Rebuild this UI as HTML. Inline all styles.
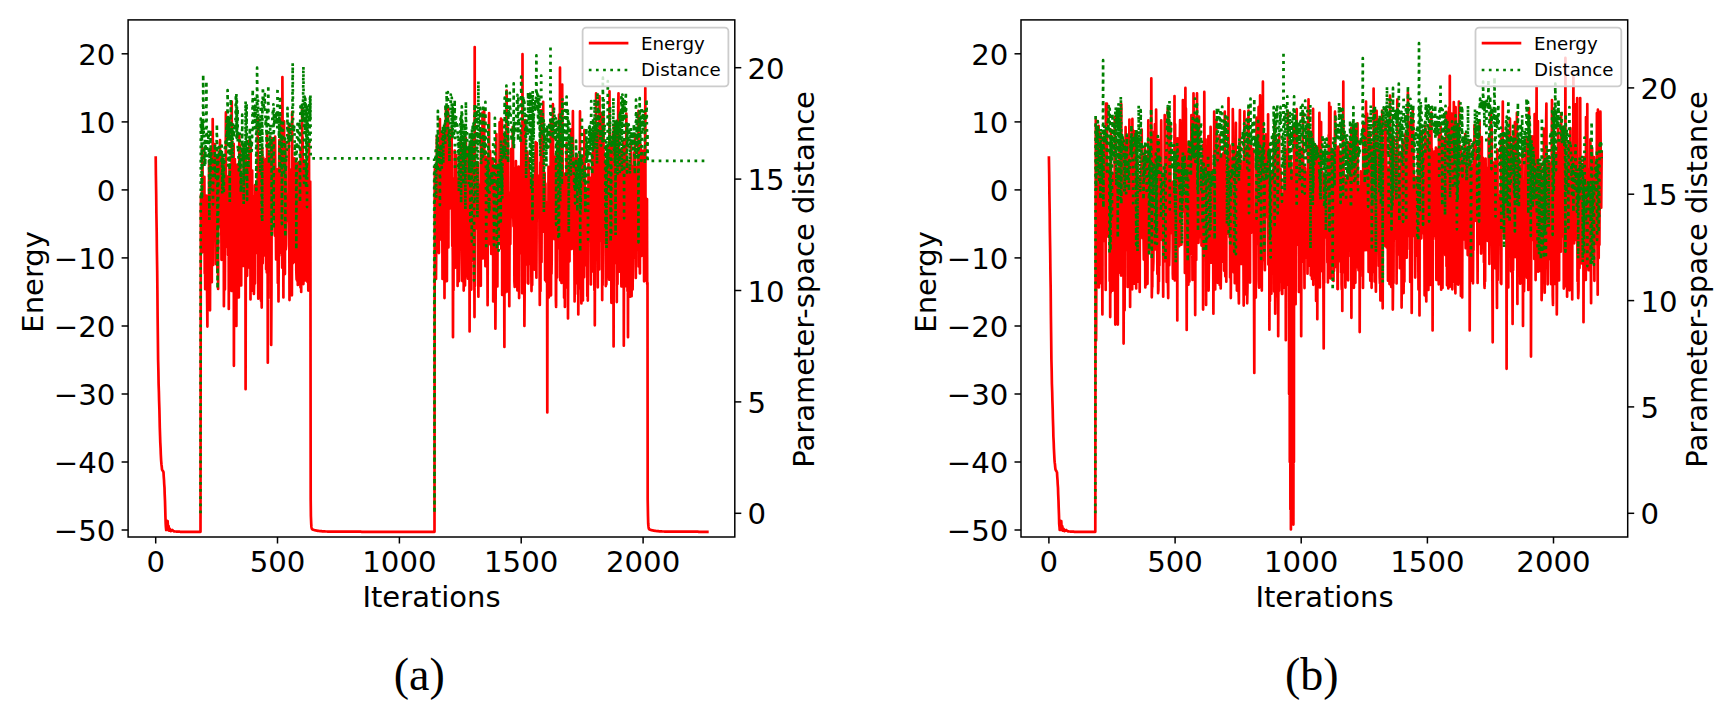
<!DOCTYPE html>
<html><head><meta charset="utf-8"><title>Energy and parameter-space distance</title>
<style>
html,body{margin:0;padding:0;background:#fff;}
body{width:1731px;height:701px;overflow:hidden;}
svg{display:block;}
.t{font-family:"DejaVu Sans","Liberation Sans",sans-serif;font-size:29.2px;fill:#000;}
.a{font-family:"DejaVu Sans","Liberation Sans",sans-serif;font-size:29px;fill:#000;}
.l{font-family:"DejaVu Sans","Liberation Sans",sans-serif;font-size:18.2px;fill:#000;}
.c{font-family:"Liberation Serif","DejaVu Serif",serif;font-size:46px;fill:#000;}
.en{fill:none;stroke:#ff0000;stroke-width:2.7;stroke-linejoin:round;stroke-linecap:butt;}
.di{fill:none;stroke:#008000;stroke-width:2.7;stroke-dasharray:2.7 4.46;stroke-linejoin:round;}
.sp{fill:none;stroke:#000;stroke-width:1.5;}
.tk{stroke:#000;stroke-width:1.5;}
.lg{fill:#fff;fill-opacity:0.8;stroke:#ccc;stroke-width:1.8;}
</style></head><body>
<svg width="1731" height="701" viewBox="0 0 1731 701">
<rect width="1731" height="701" fill="#fff"/>
<g id="plot-a">
<polyline class="en" points="155.7,156.2 155.9,175.3 156.2,194.4 156.4,213.5 156.7,232.6 156.9,251.7 157.2,270.8 157.4,289.9 157.6,315.2 157.9,340.5 158.1,359.3 158.4,371.5 158.6,383.8 158.9,392.3 159.1,400.8 159.4,409.8 159.6,418.8 159.8,427.8 160.1,436.8 160.3,442.6 160.6,448.4 160.8,454.2 161.1,460.0 161.3,462.4 161.5,464.7 161.8,467.1 162.0,469.5 162.3,470.0 162.5,470.4 162.8,470.9 163.0,471.3 163.3,471.8 163.5,472.2 163.7,476.1 164.0,480.0 164.2,484.0 164.5,487.9 164.7,494.4 165.0,501.0 165.2,507.6 165.4,515.8 165.7,523.9 165.9,527.0 166.2,530.0 166.4,525.3 166.7,520.5 166.9,525.3 167.2,530.0 167.4,525.6 167.6,521.2 167.9,525.6 168.1,530.0 168.4,528.0 168.6,526.0 168.9,528.3 169.1,530.7 169.3,530.0 169.6,529.4 169.8,528.7 170.1,529.3 170.3,529.9 170.6,530.5 170.8,531.1 171.1,530.9 171.3,530.7 171.5,530.6 171.8,530.4 172.0,530.2 172.3,530.0 172.5,530.2 172.8,530.4 173.0,530.6 173.2,530.8 173.5,531.0 173.7,531.2 174.0,531.4 174.2,531.4 174.5,531.4 174.7,531.5 175.0,531.5 175.2,531.5 175.4,531.5 175.7,531.5 175.9,531.5 176.2,531.5 176.4,531.5 176.7,531.6 176.9,531.6 177.1,531.6 177.4,531.6 177.6,531.6 177.9,531.6 178.1,531.6 178.4,531.7 178.6,531.7 178.9,531.7 179.1,531.7 179.3,531.7 179.6,531.7 179.8,531.7 180.1,531.8 180.3,531.8 180.6,531.8 180.8,531.8 181.0,531.8 181.3,531.8 181.5,531.8 181.8,531.8 182.0,531.8 182.3,531.8 182.5,531.8 182.8,531.8 183.0,531.8 183.2,531.8 183.5,531.8 183.7,531.8 184.0,531.8 184.2,531.8 184.5,531.8 184.7,531.8 184.9,531.8 185.2,531.8 185.4,531.8 185.7,531.8 185.9,531.8 186.2,531.8 186.4,531.8 186.6,531.8 186.9,531.8 187.1,531.8 187.4,531.8 187.6,531.8 187.9,531.8 188.1,531.8 188.4,531.8 188.6,531.8 188.8,531.8 189.1,531.8 189.3,531.8 189.6,531.8 189.8,531.8 190.1,531.8 190.3,531.8 190.5,531.8 190.8,531.8 191.0,531.8 191.3,531.8 191.5,531.8 191.8,531.8 192.0,531.8 192.3,531.8 192.5,531.8 192.7,531.8 193.0,531.8 193.2,531.8 193.5,531.8 193.7,531.8 194.0,531.8 194.2,531.8 194.4,531.8 194.7,531.8 194.9,531.8 195.2,531.8 195.4,531.8 195.7,531.8 195.9,531.8 196.2,531.8 196.4,531.8 196.6,531.8 196.9,531.8 197.1,531.8 197.4,531.8 197.6,531.8 197.9,531.8 198.1,531.8 198.3,531.8 198.6,531.8 198.8,531.8 199.1,531.8 199.3,531.8 199.6,531.8 199.8,531.8 200.1,531.8 200.3,531.8 200.5,531.8 200.8,207.5 201.0,194.4 201.3,219.7 201.5,247.0 201.8,227.7 202.0,252.5 202.2,204.9 202.5,148.3 202.7,229.4 203.0,235.0 203.2,185.9 203.5,191.8 203.7,202.9 204.0,248.8 204.2,208.9 204.4,176.8 204.7,273.5 204.9,227.8 205.2,289.2 205.4,270.3 205.7,286.6 205.9,218.0 206.1,269.0 206.4,195.6 206.6,200.7 206.9,215.9 207.1,296.7 207.4,326.6 207.6,209.7 207.9,202.6 208.1,282.0 208.3,228.7 208.6,251.7 208.8,243.4 209.1,160.7 209.3,243.3 209.6,209.0 209.8,168.5 210.0,310.3 210.3,212.5 210.5,202.7 210.8,204.8 211.0,266.4 211.3,204.2 211.5,147.5 211.8,282.2 212.0,169.6 212.2,202.3 212.5,236.0 212.7,119.1 213.0,173.9 213.2,264.9 213.5,204.3 213.7,182.1 213.9,215.9 214.2,177.4 214.4,210.5 214.7,178.1 214.9,144.0 215.2,237.5 215.4,198.6 215.7,228.1 215.9,202.0 216.1,264.2 216.4,233.2 216.6,216.3 216.9,167.8 217.1,156.9 217.4,272.3 217.6,242.7 217.8,179.0 218.1,288.9 218.3,228.1 218.6,211.9 218.8,152.0 219.1,177.1 219.3,222.1 219.5,223.9 219.8,218.7 220.0,140.2 220.3,226.5 220.5,221.0 220.8,192.0 221.0,212.9 221.3,216.3 221.5,259.8 221.7,208.1 222.0,227.2 222.2,156.0 222.5,178.7 222.7,208.7 223.0,178.0 223.2,222.6 223.4,161.1 223.7,207.8 223.9,306.2 224.2,270.4 224.4,192.3 224.7,284.3 224.9,289.5 225.2,221.1 225.4,247.4 225.6,200.3 225.9,112.4 226.1,244.4 226.4,235.2 226.6,198.5 226.9,185.8 227.1,215.4 227.3,216.7 227.6,176.5 227.8,184.6 228.1,255.0 228.3,211.1 228.6,206.0 228.8,309.0 229.1,196.1 229.3,245.5 229.5,164.6 229.8,199.1 230.0,203.6 230.3,233.7 230.5,212.8 230.8,288.9 231.0,260.8 231.2,191.5 231.5,290.9 231.7,101.5 232.0,285.2 232.2,174.1 232.5,245.0 232.7,173.1 233.0,201.8 233.2,282.1 233.4,152.4 233.7,143.8 233.9,365.8 234.2,219.7 234.4,214.7 234.7,251.5 234.9,159.0 235.1,231.6 235.4,209.9 235.6,242.7 235.9,235.3 236.1,269.6 236.4,326.0 236.6,214.4 236.9,164.9 237.1,207.0 237.3,238.3 237.6,222.0 237.8,232.4 238.1,207.2 238.3,224.2 238.6,220.9 238.8,297.4 239.0,243.3 239.3,134.4 239.5,237.3 239.8,256.2 240.0,192.7 240.3,145.4 240.5,280.1 240.8,216.8 241.0,235.5 241.2,285.4 241.5,175.1 241.7,208.6 242.0,204.4 242.2,240.9 242.5,187.5 242.7,231.4 242.9,213.9 243.2,259.5 243.4,265.9 243.7,148.5 243.9,230.0 244.2,194.7 244.4,209.1 244.7,227.1 244.9,230.0 245.1,179.7 245.4,220.9 245.6,389.2 245.9,206.6 246.1,155.6 246.4,177.5 246.6,190.7 246.8,232.5 247.1,275.8 247.3,165.6 247.6,164.9 247.8,213.8 248.1,183.6 248.3,173.0 248.5,170.8 248.8,166.8 249.0,227.7 249.3,140.6 249.5,267.7 249.8,169.5 250.0,185.7 250.3,169.0 250.5,299.4 250.7,141.9 251.0,261.7 251.2,284.3 251.5,171.5 251.7,253.9 252.0,208.1 252.2,170.5 252.4,283.7 252.7,290.6 252.9,196.1 253.2,205.6 253.4,218.5 253.7,205.9 253.9,294.0 254.2,281.7 254.4,215.0 254.6,251.3 254.9,283.6 255.1,185.2 255.4,210.3 255.6,189.6 255.9,252.4 256.1,236.7 256.3,252.9 256.6,246.8 256.8,198.9 257.1,242.2 257.3,191.8 257.6,192.6 257.8,118.0 258.1,276.4 258.3,298.7 258.5,211.5 258.8,208.2 259.0,279.9 259.3,227.9 259.5,174.7 259.8,211.2 260.0,204.0 260.2,220.4 260.5,156.5 260.7,208.5 261.0,300.8 261.2,238.2 261.5,288.5 261.7,307.6 262.0,231.0 262.2,148.6 262.4,205.5 262.7,263.3 262.9,249.5 263.2,157.6 263.4,200.6 263.7,205.5 263.9,210.0 264.1,205.9 264.4,172.0 264.6,183.2 264.9,198.0 265.1,255.6 265.4,185.0 265.6,237.8 265.9,159.2 266.1,269.2 266.3,213.7 266.6,207.9 266.8,272.4 267.1,131.4 267.3,143.0 267.6,228.1 267.8,362.7 268.0,190.8 268.3,298.1 268.5,196.5 268.8,210.3 269.0,203.9 269.3,257.6 269.5,219.5 269.8,215.5 270.0,155.1 270.2,192.8 270.5,207.8 270.7,140.0 271.0,232.1 271.2,345.0 271.5,286.2 271.7,138.2 271.9,164.9 272.2,167.0 272.4,178.0 272.7,202.7 272.9,198.1 273.2,218.7 273.4,216.6 273.7,205.2 273.9,140.7 274.1,183.0 274.4,210.2 274.6,233.2 274.9,235.7 275.1,136.7 275.4,185.2 275.6,204.6 275.8,222.9 276.1,259.5 276.3,210.5 276.6,169.0 276.8,224.9 277.1,217.6 277.3,217.4 277.5,202.7 277.8,282.9 278.0,218.0 278.3,245.4 278.5,301.5 278.8,241.7 279.0,182.1 279.3,140.2 279.5,221.5 279.7,234.2 280.0,199.1 280.2,207.7 280.5,252.6 280.7,187.2 281.0,118.5 281.2,219.0 281.4,216.6 281.7,255.7 281.9,193.5 282.2,267.7 282.4,77.0 282.7,151.0 282.9,247.6 283.2,159.8 283.4,297.4 283.6,196.1 283.9,183.1 284.1,121.3 284.4,216.3 284.6,233.8 284.9,274.1 285.1,205.7 285.3,142.2 285.6,165.2 285.8,249.5 286.1,245.4 286.3,229.9 286.6,194.7 286.8,216.7 287.1,198.1 287.3,194.5 287.5,220.8 287.8,209.4 288.0,198.5 288.3,211.3 288.5,185.3 288.8,124.9 289.0,181.4 289.2,205.1 289.5,300.1 289.7,190.4 290.0,288.2 290.2,277.4 290.5,169.8 290.7,176.4 291.0,214.2 291.2,284.6 291.4,224.0 291.7,237.6 291.9,295.3 292.2,112.2 292.4,198.0 292.7,242.0 292.9,263.2 293.1,210.1 293.4,215.4 293.6,262.0 293.9,202.4 294.1,262.0 294.4,158.4 294.6,160.6 294.9,159.6 295.1,228.6 295.3,184.8 295.6,213.4 295.8,224.8 296.1,222.6 296.3,270.9 296.6,279.5 296.8,172.5 297.0,280.4 297.3,198.0 297.5,163.3 297.8,285.0 298.0,242.3 298.3,199.8 298.5,190.2 298.8,224.3 299.0,162.1 299.2,198.3 299.5,265.7 299.7,248.9 300.0,172.0 300.2,187.1 300.5,287.5 300.7,148.0 300.9,181.1 301.2,291.9 301.4,224.6 301.7,220.7 301.9,260.5 302.2,109.1 302.4,215.3 302.7,137.4 302.9,236.2 303.1,200.3 303.4,284.1 303.6,224.5 303.9,164.1 304.1,268.0 304.4,160.2 304.6,192.7 304.8,255.6 305.1,229.8 305.3,280.4 305.6,209.8 305.8,231.3 306.1,244.2 306.3,221.1 306.6,254.6 306.8,270.3 307.0,209.7 307.3,168.5 307.5,281.9 307.8,207.4 308.0,236.3 308.3,290.6 308.5,169.8 308.7,230.5 309.0,141.3 309.2,242.1 309.5,190.5 309.7,217.6 310.0,240.9 310.2,181.6 310.4,214.4 310.7,499.8 310.9,516.2 311.2,523.5 311.4,526.7 311.7,528.1 311.9,528.8 312.2,529.1 312.4,529.4 312.6,529.5 312.9,529.6 313.1,529.7 313.4,529.8 313.6,529.9 313.9,529.9 314.1,530.0 314.3,530.1 314.6,530.1 314.8,530.2 315.1,530.3 315.3,530.3 315.6,530.4 315.8,530.4 316.1,530.5 316.3,530.5 316.5,530.6 316.8,530.6 317.0,530.7 317.3,530.7 317.5,530.8 317.8,530.8 318.0,530.8 318.2,530.9 318.5,530.9 318.7,530.9 319.0,531.0 319.2,531.0 319.5,531.0 319.7,531.1 320.0,531.1 320.2,531.1 320.4,531.1 320.7,531.2 320.9,531.2 321.2,531.2 321.4,531.2 321.7,531.2 321.9,531.3 322.1,531.3 322.4,531.3 322.6,531.3 322.9,531.3 323.1,531.4 323.4,531.4 323.6,531.4 323.9,531.4 324.1,531.4 324.3,531.4 324.6,531.4 324.8,531.4 325.1,531.5 325.3,531.5 325.6,531.5 325.8,531.5 326.0,531.5 326.3,531.5 326.5,531.5 326.8,531.5 327.0,531.5 327.3,531.5 327.5,531.6 327.8,531.6 328.0,531.6 328.2,531.6 328.5,531.6 328.7,531.6 329.0,531.6 329.2,531.6 329.5,531.6 329.7,531.6 329.9,531.6 330.2,531.6 330.4,531.6 330.7,531.6 330.9,531.6 331.2,531.6 331.4,531.6 331.7,531.7 331.9,531.7 332.1,531.7 332.4,531.7 332.6,531.7 332.9,531.7 333.1,531.7 333.4,531.7 333.6,531.7 333.8,531.7 334.1,531.7 334.3,531.7 334.6,531.7 334.8,531.7 335.1,531.7 335.3,531.7 335.6,531.7 335.8,531.7 336.0,531.7 336.3,531.7 336.5,531.7 336.8,531.7 337.0,531.7 337.3,531.7 337.5,531.7 337.7,531.7 338.0,531.7 338.2,531.7 338.5,531.7 338.7,531.7 339.0,531.7 339.2,531.7 339.4,531.7 339.7,531.7 339.9,531.7 340.2,531.7 340.4,531.7 340.7,531.7 340.9,531.7 341.2,531.7 341.4,531.7 341.6,531.7 341.9,531.7 342.1,531.7 342.4,531.7 342.6,531.7 342.9,531.7 343.1,531.7 343.3,531.7 343.6,531.7 343.8,531.7 344.1,531.7 344.3,531.7 344.6,531.7 344.8,531.7 345.1,531.7 345.3,531.7 345.5,531.7 345.8,531.7 346.0,531.7 346.3,531.7 346.5,531.7 346.8,531.7 347.0,531.7 347.2,531.7 347.5,531.7 347.7,531.7 348.0,531.7 348.2,531.7 348.5,531.7 348.7,531.7 349.0,531.7 349.2,531.7 349.4,531.7 349.7,531.7 349.9,531.7 350.2,531.7 350.4,531.7 350.7,531.7 350.9,531.7 351.1,531.7 351.4,531.7 351.6,531.7 351.9,531.7 352.1,531.7 352.4,531.7 352.6,531.7 352.9,531.7 353.1,531.7 353.3,531.7 353.6,531.7 353.8,531.7 354.1,531.7 354.3,531.7 354.6,531.7 354.8,531.7 355.0,531.7 355.3,531.7 355.5,531.7 355.8,531.7 356.0,531.7 356.3,531.7 356.5,531.7 356.8,531.7 357.0,531.7 357.2,531.7 357.5,531.7 357.7,531.7 358.0,531.7 358.2,531.7 358.5,531.7 358.7,531.7 358.9,531.7 359.2,531.7 359.4,531.7 359.7,531.7 359.9,531.7 360.2,531.7 360.4,531.7 360.7,531.7 360.9,531.7 361.1,531.7 361.4,531.8 361.6,531.8 361.9,531.8 362.1,531.8 362.4,531.8 362.6,531.8 362.8,531.8 363.1,531.8 363.3,531.8 363.6,531.8 363.8,531.8 364.1,531.8 364.3,531.8 364.6,531.8 364.8,531.8 365.0,531.8 365.3,531.8 365.5,531.8 365.8,531.8 366.0,531.8 366.3,531.8 366.5,531.8 366.7,531.8 367.0,531.8 367.2,531.8 367.5,531.8 367.7,531.8 368.0,531.8 368.2,531.8 368.5,531.8 368.7,531.8 368.9,531.8 369.2,531.8 369.4,531.8 369.7,531.8 369.9,531.8 370.2,531.8 370.4,531.8 370.6,531.8 370.9,531.8 371.1,531.8 371.4,531.8 371.6,531.8 371.9,531.8 372.1,531.8 372.3,531.8 372.6,531.8 372.8,531.8 373.1,531.8 373.3,531.8 373.6,531.8 373.8,531.8 374.1,531.8 374.3,531.8 374.5,531.8 374.8,531.8 375.0,531.8 375.3,531.8 375.5,531.8 375.8,531.8 376.0,531.8 376.2,531.8 376.5,531.8 376.7,531.8 377.0,531.8 377.2,531.8 377.5,531.8 377.7,531.8 378.0,531.8 378.2,531.8 378.4,531.8 378.7,531.8 378.9,531.8 379.2,531.8 379.4,531.8 379.7,531.8 379.9,531.8 380.1,531.8 380.4,531.8 380.6,531.8 380.9,531.8 381.1,531.8 381.4,531.8 381.6,531.8 381.9,531.8 382.1,531.8 382.3,531.8 382.6,531.8 382.8,531.8 383.1,531.8 383.3,531.8 383.6,531.8 383.8,531.8 384.0,531.8 384.3,531.8 384.5,531.8 384.8,531.8 385.0,531.8 385.3,531.8 385.5,531.8 385.8,531.8 386.0,531.8 386.2,531.8 386.5,531.8 386.7,531.8 387.0,531.8 387.2,531.8 387.5,531.8 387.7,531.8 387.9,531.8 388.2,531.8 388.4,531.8 388.7,531.8 388.9,531.8 389.2,531.8 389.4,531.8 389.7,531.8 389.9,531.8 390.1,531.8 390.4,531.8 390.6,531.8 390.9,531.8 391.1,531.8 391.4,531.8 391.6,531.8 391.8,531.8 392.1,531.8 392.3,531.8 392.6,531.8 392.8,531.8 393.1,531.8 393.3,531.8 393.6,531.8 393.8,531.8 394.0,531.8 394.3,531.8 394.5,531.8 394.8,531.8 395.0,531.8 395.3,531.8 395.5,531.8 395.7,531.8 396.0,531.8 396.2,531.8 396.5,531.8 396.7,531.8 397.0,531.8 397.2,531.8 397.5,531.8 397.7,531.8 397.9,531.8 398.2,531.8 398.4,531.8 398.7,531.8 398.9,531.8 399.2,531.8 399.4,531.8 399.6,531.8 399.9,531.8 400.1,531.8 400.4,531.8 400.6,531.8 400.9,531.8 401.1,531.8 401.3,531.8 401.6,531.8 401.8,531.8 402.1,531.8 402.3,531.8 402.6,531.8 402.8,531.8 403.1,531.8 403.3,531.8 403.5,531.8 403.8,531.8 404.0,531.8 404.3,531.8 404.5,531.8 404.8,531.8 405.0,531.8 405.2,531.8 405.5,531.8 405.7,531.8 406.0,531.8 406.2,531.8 406.5,531.8 406.7,531.8 407.0,531.8 407.2,531.8 407.4,531.8 407.7,531.8 407.9,531.8 408.2,531.8 408.4,531.8 408.7,531.8 408.9,531.8 409.1,531.8 409.4,531.8 409.6,531.8 409.9,531.8 410.1,531.8 410.4,531.8 410.6,531.8 410.9,531.8 411.1,531.8 411.3,531.8 411.6,531.8 411.8,531.8 412.1,531.8 412.3,531.8 412.6,531.8 412.8,531.8 413.0,531.8 413.3,531.8 413.5,531.8 413.8,531.8 414.0,531.8 414.3,531.8 414.5,531.8 414.8,531.8 415.0,531.8 415.2,531.8 415.5,531.8 415.7,531.8 416.0,531.8 416.2,531.8 416.5,531.8 416.7,531.8 416.9,531.8 417.2,531.8 417.4,531.8 417.7,531.8 417.9,531.8 418.2,531.8 418.4,531.8 418.7,531.8 418.9,531.8 419.1,531.8 419.4,531.8 419.6,531.8 419.9,531.8 420.1,531.8 420.4,531.8 420.6,531.8 420.8,531.8 421.1,531.8 421.3,531.8 421.6,531.8 421.8,531.8 422.1,531.8 422.3,531.8 422.6,531.8 422.8,531.8 423.0,531.8 423.3,531.8 423.5,531.8 423.8,531.8 424.0,531.8 424.3,531.8 424.5,531.8 424.7,531.8 425.0,531.8 425.2,531.8 425.5,531.8 425.7,531.8 426.0,531.8 426.2,531.8 426.5,531.8 426.7,531.8 426.9,531.8 427.2,531.8 427.4,531.8 427.7,531.8 427.9,531.8 428.2,531.8 428.4,531.8 428.6,531.8 428.9,531.8 429.1,531.8 429.4,531.8 429.6,531.8 429.9,531.8 430.1,531.8 430.3,531.8 430.6,531.8 430.8,531.8 431.1,531.8 431.3,531.8 431.6,531.8 431.8,531.8 432.1,531.8 432.3,531.8 432.5,531.8 432.8,531.8 433.0,531.8 433.3,531.8 433.5,531.8 433.8,531.8 434.0,531.8 434.2,531.8 434.5,531.8 434.7,182.8 435.0,166.3 435.2,204.9 435.5,187.4 435.7,222.1 436.0,278.9 436.2,254.0 436.4,173.2 436.7,187.5 436.9,136.2 437.2,205.1 437.4,168.8 437.7,148.2 437.9,162.9 438.1,234.9 438.4,215.9 438.6,201.8 438.9,253.1 439.1,186.3 439.4,161.6 439.6,229.2 439.9,119.0 440.1,220.6 440.3,216.7 440.6,218.3 440.8,239.4 441.1,188.8 441.3,206.7 441.6,133.0 441.8,180.3 442.0,183.4 442.3,217.5 442.5,279.0 442.8,211.6 443.0,245.8 443.3,164.9 443.5,209.0 443.8,132.8 444.0,174.6 444.2,170.1 444.5,298.1 444.7,198.2 445.0,178.3 445.2,166.2 445.5,239.5 445.7,185.5 445.9,107.8 446.2,211.6 446.4,219.1 446.7,238.7 446.9,281.1 447.2,154.2 447.4,204.9 447.7,194.1 447.9,124.8 448.1,109.0 448.4,247.5 448.6,160.2 448.9,179.6 449.1,189.6 449.4,186.0 449.6,208.6 449.8,136.1 450.1,179.9 450.3,192.0 450.6,151.5 450.8,167.2 451.1,186.8 451.3,192.8 451.6,128.6 451.8,184.6 452.0,211.5 452.3,245.9 452.5,222.9 452.8,256.8 453.0,337.2 453.3,195.9 453.5,290.2 453.7,206.6 454.0,178.3 454.2,200.0 454.5,251.0 454.7,150.5 455.0,238.7 455.2,267.6 455.5,258.7 455.7,208.1 455.9,163.3 456.2,155.1 456.4,198.1 456.7,265.5 456.9,237.0 457.2,247.8 457.4,215.5 457.6,286.0 457.9,202.5 458.1,178.6 458.4,214.2 458.6,186.9 458.9,250.1 459.1,281.1 459.4,236.1 459.6,155.6 459.8,161.3 460.1,228.1 460.3,153.5 460.6,222.1 460.8,139.7 461.1,185.9 461.3,227.8 461.5,171.9 461.8,242.3 462.0,250.0 462.3,281.1 462.5,196.0 462.8,210.0 463.0,211.1 463.2,226.0 463.5,143.0 463.7,290.6 464.0,240.1 464.2,151.6 464.5,143.8 464.7,192.4 465.0,285.5 465.2,234.5 465.4,180.1 465.7,206.8 465.9,137.8 466.2,276.2 466.4,177.1 466.7,235.7 466.9,148.2 467.1,211.0 467.4,161.3 467.6,236.7 467.9,278.7 468.1,260.6 468.4,234.8 468.6,255.4 468.9,153.7 469.1,147.5 469.3,195.3 469.6,331.4 469.8,212.9 470.1,238.4 470.3,142.3 470.6,193.4 470.8,185.6 471.0,225.5 471.3,289.6 471.5,242.2 471.8,261.0 472.0,191.0 472.3,203.3 472.5,243.6 472.8,225.0 473.0,137.3 473.2,251.5 473.5,248.9 473.7,217.8 474.0,239.0 474.2,226.8 474.5,317.1 474.7,47.0 474.9,286.1 475.2,208.4 475.4,205.7 475.7,211.4 475.9,216.0 476.2,222.9 476.4,162.5 476.7,228.5 476.9,213.3 477.1,207.6 477.4,202.8 477.6,215.3 477.9,162.7 478.1,208.0 478.4,296.7 478.6,209.9 478.8,254.1 479.1,244.9 479.3,256.9 479.6,198.9 479.8,239.6 480.1,257.6 480.3,196.9 480.6,184.0 480.8,285.8 481.0,131.7 481.3,206.1 481.5,212.3 481.8,159.7 482.0,204.5 482.3,234.7 482.5,112.5 482.7,258.4 483.0,212.0 483.2,169.5 483.5,258.1 483.7,212.2 484.0,190.2 484.2,110.2 484.5,247.7 484.7,209.7 484.9,178.0 485.2,203.9 485.4,266.2 485.7,189.3 485.9,202.8 486.2,187.6 486.4,156.8 486.6,162.1 486.9,189.3 487.1,193.6 487.4,259.9 487.6,305.2 487.9,197.7 488.1,225.6 488.4,203.2 488.6,244.6 488.8,138.7 489.1,113.0 489.3,225.1 489.6,189.6 489.8,218.1 490.1,150.9 490.3,188.1 490.5,204.1 490.8,217.6 491.0,201.9 491.3,253.9 491.5,177.3 491.8,239.6 492.0,183.6 492.2,201.8 492.5,158.4 492.7,208.4 493.0,161.7 493.2,301.5 493.5,180.2 493.7,217.6 494.0,198.9 494.2,204.4 494.4,165.5 494.7,289.7 494.9,193.1 495.2,281.8 495.4,328.7 495.7,289.0 495.9,254.1 496.1,284.5 496.4,134.0 496.6,271.4 496.9,202.5 497.1,231.6 497.4,286.4 497.6,222.7 497.9,177.8 498.1,215.9 498.3,165.3 498.6,223.8 498.8,207.3 499.1,224.9 499.3,192.2 499.6,122.3 499.8,191.3 500.0,198.9 500.3,235.4 500.5,241.5 500.8,141.9 501.0,118.5 501.3,248.7 501.5,212.0 501.8,226.7 502.0,119.8 502.2,295.0 502.5,191.4 502.7,175.6 503.0,261.2 503.2,236.5 503.5,188.2 503.7,134.4 503.9,249.1 504.2,283.1 504.4,347.0 504.7,139.2 504.9,222.6 505.2,292.7 505.4,142.4 505.7,216.5 505.9,157.1 506.1,209.5 506.4,224.5 506.6,90.6 506.9,141.4 507.1,143.2 507.4,291.5 507.6,250.1 507.8,127.8 508.1,224.1 508.3,275.8 508.6,207.4 508.8,212.5 509.1,212.0 509.3,306.2 509.6,221.5 509.8,228.1 510.0,192.6 510.3,244.1 510.5,220.6 510.8,214.1 511.0,149.0 511.3,190.8 511.5,212.5 511.7,183.5 512.0,189.4 512.2,158.7 512.5,184.8 512.7,127.0 513.0,147.2 513.2,209.4 513.5,226.2 513.7,168.0 513.9,184.4 514.2,211.8 514.4,281.5 514.7,286.9 514.9,192.0 515.2,173.0 515.4,171.5 515.6,271.3 515.9,161.0 516.1,231.6 516.4,190.1 516.6,188.9 516.9,243.6 517.1,234.1 517.4,290.5 517.6,248.9 517.8,286.4 518.1,188.0 518.3,204.8 518.6,166.5 518.8,191.6 519.1,298.1 519.3,192.0 519.5,225.1 519.8,180.2 520.0,193.4 520.3,253.2 520.5,207.5 520.8,205.1 521.0,221.4 521.2,167.4 521.5,130.7 521.7,224.1 522.0,223.3 522.2,293.2 522.5,54.2 522.7,227.2 523.0,291.9 523.2,194.6 523.4,181.1 523.7,240.5 523.9,224.3 524.2,251.9 524.4,326.0 524.7,282.1 524.9,221.7 525.1,120.0 525.4,205.3 525.6,186.6 525.9,214.2 526.1,264.5 526.4,209.1 526.6,189.3 526.9,255.3 527.1,192.2 527.3,151.7 527.6,159.6 527.8,283.1 528.1,252.4 528.3,283.6 528.6,159.5 528.8,180.2 529.0,176.0 529.3,247.0 529.5,264.0 529.8,204.1 530.0,203.1 530.3,245.9 530.5,201.2 530.8,178.6 531.0,197.3 531.2,256.3 531.5,291.1 531.7,219.2 532.0,200.2 532.2,285.1 532.5,226.8 532.7,238.6 532.9,175.5 533.2,209.9 533.4,202.1 533.7,252.2 533.9,235.4 534.2,200.2 534.4,254.2 534.7,269.6 534.9,222.4 535.1,153.7 535.4,199.0 535.6,142.1 535.9,213.5 536.1,221.5 536.4,277.7 536.6,233.5 536.8,143.1 537.1,192.9 537.3,174.7 537.6,175.9 537.8,208.0 538.1,216.8 538.3,202.2 538.6,177.4 538.8,187.0 539.0,185.5 539.3,200.7 539.5,242.2 539.8,304.9 540.0,250.4 540.3,162.5 540.5,291.0 540.7,217.4 541.0,110.4 541.2,222.9 541.5,262.1 541.7,208.4 542.0,149.7 542.2,214.8 542.5,180.0 542.7,203.1 542.9,224.3 543.2,101.8 543.4,204.4 543.7,231.7 543.9,229.6 544.2,190.5 544.4,189.2 544.6,172.9 544.9,201.3 545.1,280.1 545.4,183.7 545.6,221.5 545.9,220.4 546.1,281.6 546.4,233.3 546.6,240.2 546.8,209.2 547.1,281.1 547.3,412.4 547.6,202.0 547.8,261.2 548.1,235.6 548.3,246.1 548.5,166.8 548.8,297.4 549.0,223.0 549.3,284.3 549.5,227.0 549.8,169.6 550.0,235.9 550.3,201.4 550.5,245.5 550.7,120.5 551.0,295.3 551.2,157.0 551.5,273.8 551.7,260.0 552.0,159.1 552.2,216.3 552.4,219.2 552.7,192.6 552.9,104.2 553.2,172.9 553.4,206.8 553.7,186.1 553.9,237.7 554.1,184.5 554.4,239.2 554.6,164.7 554.9,156.9 555.1,166.6 555.4,184.4 555.6,179.1 555.9,300.1 556.1,306.9 556.3,219.9 556.6,203.3 556.8,220.3 557.1,277.6 557.3,231.8 557.6,178.0 557.8,143.9 558.0,235.6 558.3,248.2 558.5,142.4 558.8,247.2 559.0,114.5 559.3,205.3 559.5,247.3 559.8,163.4 560.0,67.7 560.2,280.3 560.5,137.6 560.7,220.2 561.0,140.9 561.2,224.7 561.5,283.0 561.7,185.0 561.9,166.0 562.2,84.5 562.4,130.2 562.7,176.4 562.9,218.3 563.2,231.0 563.4,220.8 563.7,244.9 563.9,219.9 564.1,297.7 564.4,199.6 564.6,208.9 564.9,306.9 565.1,173.5 565.4,229.1 565.6,182.2 565.8,267.6 566.1,234.6 566.3,287.4 566.6,143.1 566.8,180.9 567.1,264.6 567.3,210.3 567.6,164.9 567.8,185.4 568.0,318.5 568.3,246.1 568.5,236.2 568.8,203.3 569.0,166.3 569.3,244.8 569.5,261.3 569.7,156.2 570.0,249.7 570.2,159.2 570.5,196.7 570.7,168.0 571.0,129.3 571.2,176.7 571.5,172.7 571.7,248.9 571.9,238.8 572.2,178.7 572.4,138.7 572.7,145.1 572.9,111.2 573.2,193.6 573.4,198.5 573.6,162.4 573.9,206.7 574.1,210.4 574.4,256.8 574.6,301.5 574.9,258.3 575.1,184.6 575.4,279.3 575.6,158.4 575.8,255.7 576.1,169.7 576.3,283.2 576.6,227.3 576.8,154.7 577.1,243.7 577.3,204.6 577.5,229.1 577.8,294.1 578.0,193.8 578.3,314.4 578.5,260.4 578.8,181.8 579.0,243.3 579.3,254.1 579.5,207.3 579.7,238.2 580.0,111.4 580.2,282.7 580.5,174.4 580.7,163.2 581.0,289.1 581.2,285.4 581.4,303.5 581.7,229.2 581.9,190.4 582.2,156.4 582.4,224.3 582.7,257.8 582.9,300.5 583.1,198.4 583.4,249.6 583.6,193.5 583.9,197.2 584.1,277.2 584.4,130.2 584.6,158.9 584.9,169.5 585.1,265.1 585.3,225.9 585.6,232.1 585.8,226.2 586.1,261.4 586.3,188.1 586.6,197.3 586.8,191.2 587.0,230.3 587.3,296.0 587.5,199.2 587.8,300.6 588.0,236.3 588.3,210.1 588.5,164.2 588.8,221.1 589.0,218.8 589.2,237.3 589.5,177.7 589.7,227.7 590.0,234.7 590.2,240.9 590.5,182.6 590.7,231.5 590.9,284.5 591.2,179.6 591.4,239.1 591.7,191.6 591.9,190.8 592.2,153.5 592.4,160.7 592.7,233.4 592.9,215.1 593.1,271.5 593.4,132.3 593.6,187.8 593.9,145.0 594.1,221.9 594.4,290.2 594.6,138.8 594.8,325.3 595.1,201.6 595.3,205.1 595.6,178.6 595.8,183.7 596.1,93.3 596.3,158.8 596.6,231.3 596.8,228.6 597.0,130.0 597.3,166.3 597.5,222.8 597.8,287.3 598.0,200.3 598.3,183.4 598.5,211.2 598.7,268.8 599.0,243.1 599.2,269.4 599.5,96.0 599.7,170.8 600.0,161.5 600.2,240.5 600.5,197.0 600.7,182.7 600.9,230.5 601.2,214.3 601.4,113.3 601.7,198.4 601.9,167.9 602.2,300.1 602.4,205.7 602.6,285.1 602.9,208.7 603.1,154.1 603.4,113.6 603.6,153.9 603.9,176.7 604.1,205.2 604.4,234.5 604.6,214.8 604.8,180.1 605.1,242.8 605.3,165.7 605.6,253.0 605.8,286.1 606.1,254.6 606.3,284.4 606.5,276.5 606.8,156.8 607.0,216.6 607.3,197.8 607.5,155.6 607.8,151.1 608.0,230.2 608.3,147.9 608.5,190.3 608.7,207.4 609.0,187.7 609.2,279.7 609.5,91.3 609.7,212.4 610.0,180.2 610.2,224.3 610.4,213.3 610.7,164.1 610.9,144.2 611.2,173.1 611.4,302.8 611.7,225.7 611.9,221.3 612.2,193.3 612.4,221.1 612.6,230.4 612.9,133.4 613.1,216.6 613.4,251.9 613.6,346.4 613.9,125.2 614.1,204.0 614.3,152.3 614.6,227.2 614.8,229.6 615.1,238.6 615.3,214.0 615.6,125.1 615.8,263.3 616.0,134.1 616.3,254.4 616.5,218.1 616.8,302.1 617.0,179.3 617.3,194.9 617.5,284.1 617.8,191.3 618.0,255.3 618.2,108.3 618.5,93.3 618.7,199.1 619.0,262.8 619.2,229.1 619.5,271.6 619.7,163.5 619.9,219.4 620.2,182.3 620.4,238.3 620.7,230.1 620.9,149.7 621.2,252.2 621.4,286.4 621.7,189.3 621.9,262.5 622.1,227.3 622.4,166.7 622.6,244.3 622.9,168.1 623.1,238.2 623.4,140.7 623.6,148.1 623.8,345.7 624.1,217.2 624.3,244.9 624.6,198.6 624.8,156.0 625.1,281.0 625.3,166.4 625.6,273.6 625.8,246.2 626.0,286.2 626.3,113.5 626.5,205.0 626.8,196.6 627.0,237.9 627.3,159.7 627.5,291.0 627.7,206.4 628.0,337.2 628.2,224.7 628.5,206.8 628.7,177.4 629.0,244.0 629.2,206.6 629.5,164.4 629.7,198.9 629.9,190.9 630.2,296.7 630.4,193.4 630.7,205.1 630.9,142.3 631.2,175.1 631.4,218.5 631.6,296.2 631.9,175.5 632.1,173.7 632.4,248.9 632.6,289.4 632.9,262.5 633.1,166.0 633.4,257.8 633.6,228.2 633.8,197.7 634.1,152.6 634.3,208.4 634.6,212.1 634.8,232.2 635.1,134.4 635.3,159.7 635.5,211.9 635.8,278.0 636.0,243.1 636.3,181.6 636.5,240.0 636.8,167.5 637.0,191.4 637.3,194.4 637.5,178.2 637.7,185.2 638.0,246.0 638.2,222.2 638.5,110.9 638.7,266.5 639.0,228.9 639.2,159.7 639.4,214.7 639.7,244.1 639.9,273.5 640.2,183.5 640.4,161.8 640.7,144.7 640.9,205.2 641.2,160.7 641.4,255.9 641.6,200.0 641.9,238.0 642.1,199.8 642.4,173.9 642.6,159.6 642.9,253.3 643.1,150.7 643.3,228.9 643.6,255.5 643.8,215.2 644.1,281.3 644.3,207.4 644.6,194.6 644.8,216.6 645.0,183.5 645.3,87.9 645.5,207.4 645.8,280.6 646.0,205.7 646.3,245.8 646.5,227.8 646.8,211.8 647.0,199.0 647.2,284.1 647.5,282.8 647.7,499.8 648.0,516.2 648.2,523.5 648.5,526.7 648.7,528.1 648.9,528.8 649.2,529.1 649.4,529.4 649.7,529.5 649.9,529.6 650.2,529.7 650.4,529.8 650.7,529.9 650.9,529.9 651.1,530.0 651.4,530.1 651.6,530.1 651.9,530.2 652.1,530.3 652.4,530.3 652.6,530.4 652.8,530.4 653.1,530.5 653.3,530.5 653.6,530.6 653.8,530.6 654.1,530.7 654.3,530.7 654.6,530.8 654.8,530.8 655.0,530.8 655.3,530.9 655.5,530.9 655.8,530.9 656.0,531.0 656.3,531.0 656.5,531.0 656.7,531.1 657.0,531.1 657.2,531.1 657.5,531.1 657.7,531.2 658.0,531.2 658.2,531.2 658.5,531.2 658.7,531.2 658.9,531.3 659.2,531.3 659.4,531.3 659.7,531.3 659.9,531.3 660.2,531.4 660.4,531.4 660.6,531.4 660.9,531.4 661.1,531.4 661.4,531.4 661.6,531.4 661.9,531.4 662.1,531.5 662.4,531.5 662.6,531.5 662.8,531.5 663.1,531.5 663.3,531.5 663.6,531.5 663.8,531.5 664.1,531.5 664.3,531.5 664.5,531.6 664.8,531.6 665.0,531.6 665.3,531.6 665.5,531.6 665.8,531.6 666.0,531.6 666.3,531.6 666.5,531.6 666.7,531.6 667.0,531.6 667.2,531.6 667.5,531.6 667.7,531.6 668.0,531.6 668.2,531.6 668.4,531.6 668.7,531.7 668.9,531.7 669.2,531.7 669.4,531.7 669.7,531.7 669.9,531.7 670.2,531.7 670.4,531.7 670.6,531.7 670.9,531.7 671.1,531.7 671.4,531.7 671.6,531.7 671.9,531.7 672.1,531.7 672.3,531.7 672.6,531.7 672.8,531.7 673.1,531.7 673.3,531.7 673.6,531.7 673.8,531.7 674.0,531.7 674.3,531.7 674.5,531.7 674.8,531.7 675.0,531.7 675.3,531.7 675.5,531.7 675.8,531.7 676.0,531.7 676.2,531.7 676.5,531.7 676.7,531.7 677.0,531.7 677.2,531.7 677.5,531.7 677.7,531.7 677.9,531.7 678.2,531.7 678.4,531.7 678.7,531.7 678.9,531.7 679.2,531.7 679.4,531.7 679.7,531.7 679.9,531.7 680.1,531.7 680.4,531.7 680.6,531.7 680.9,531.7 681.1,531.7 681.4,531.7 681.6,531.7 681.8,531.7 682.1,531.7 682.3,531.7 682.6,531.7 682.8,531.7 683.1,531.7 683.3,531.7 683.6,531.7 683.8,531.7 684.0,531.7 684.3,531.7 684.5,531.7 684.8,531.7 685.0,531.7 685.3,531.7 685.5,531.7 685.7,531.7 686.0,531.7 686.2,531.7 686.5,531.7 686.7,531.7 687.0,531.7 687.2,531.7 687.5,531.7 687.7,531.7 687.9,531.7 688.2,531.7 688.4,531.7 688.7,531.7 688.9,531.7 689.2,531.7 689.4,531.7 689.6,531.7 689.9,531.7 690.1,531.7 690.4,531.7 690.6,531.7 690.9,531.7 691.1,531.7 691.4,531.7 691.6,531.7 691.8,531.7 692.1,531.7 692.3,531.7 692.6,531.7 692.8,531.7 693.1,531.7 693.3,531.7 693.5,531.7 693.8,531.7 694.0,531.7 694.3,531.7 694.5,531.7 694.8,531.7 695.0,531.7 695.3,531.7 695.5,531.7 695.7,531.7 696.0,531.7 696.2,531.7 696.5,531.7 696.7,531.7 697.0,531.7 697.2,531.7 697.4,531.7 697.7,531.7 697.9,531.7 698.2,531.7 698.4,531.8 698.7,531.8 698.9,531.8 699.2,531.8 699.4,531.8 699.6,531.8 699.9,531.8 700.1,531.8 700.4,531.8 700.6,531.8 700.9,531.8 701.1,531.8 701.3,531.8 701.6,531.8 701.8,531.8 702.1,531.8 702.3,531.8 702.6,531.8 702.8,531.8 703.1,531.8 703.3,531.8 703.5,531.8 703.8,531.8 704.0,531.8 704.3,531.8 704.5,531.8 704.8,531.8 705.0,531.8 705.2,531.8 705.5,531.8 705.7,531.8 706.0,531.8 706.2,531.8 706.5,531.8 706.7,531.8 706.9,531.8 707.2,531.8 707.4,531.8 707.7,531.8 707.9,531.8 708.2,531.8 708.4,531.8 708.7,531.8"/>
<polyline class="di" points="200.5,513.3 200.8,118.7 201.0,127.1 201.3,123.1 201.5,199.0 201.8,119.6 202.0,198.5 202.2,121.8 202.5,132.0 202.7,123.1 203.0,133.2 203.2,74.4 203.5,137.7 203.7,130.5 204.0,133.6 204.2,143.5 204.4,167.2 204.7,148.4 204.9,137.6 205.2,165.1 205.4,146.4 205.7,146.3 205.9,148.1 206.1,141.7 206.4,81.1 206.6,119.0 206.9,159.3 207.1,149.2 207.4,147.3 207.6,144.1 207.9,142.9 208.1,135.6 208.3,137.9 208.6,130.2 208.8,150.9 209.1,149.4 209.3,220.0 209.6,161.4 209.8,150.8 210.0,147.9 210.3,190.5 210.5,129.9 210.8,155.1 211.0,168.4 211.3,153.2 211.5,162.0 211.8,164.2 212.0,158.2 212.2,164.9 212.5,167.7 212.7,173.6 213.0,204.4 213.2,165.1 213.5,158.2 213.7,159.4 213.9,164.4 214.2,172.5 214.4,175.1 214.7,175.5 214.9,143.7 215.2,168.3 215.4,171.2 215.7,167.9 215.9,168.2 216.1,180.8 216.4,144.6 216.6,144.4 216.9,124.2 217.1,146.6 217.4,208.7 217.6,288.7 217.8,152.1 218.1,248.7 218.3,153.2 218.6,147.5 218.8,144.3 219.1,143.9 219.3,152.9 219.5,154.6 219.8,153.5 220.0,150.0 220.3,152.3 220.5,148.4 220.8,155.6 221.0,153.7 221.3,155.1 221.5,161.2 221.7,145.6 222.0,164.8 222.2,193.6 222.5,156.0 222.7,159.9 223.0,159.2 223.2,189.0 223.4,154.0 223.7,161.5 223.9,191.0 224.2,154.8 224.4,162.2 224.7,155.7 224.9,147.4 225.2,150.1 225.4,151.0 225.6,141.6 225.9,148.4 226.1,143.4 226.4,144.8 226.6,120.6 226.9,124.2 227.1,140.0 227.3,140.2 227.6,90.0 227.8,125.9 228.1,117.2 228.3,165.8 228.6,159.0 228.8,121.7 229.1,134.9 229.3,118.7 229.5,129.8 229.8,202.0 230.0,126.2 230.3,141.7 230.5,156.5 230.8,99.0 231.0,141.5 231.2,147.8 231.5,151.7 231.7,144.4 232.0,129.2 232.2,133.0 232.5,158.5 232.7,123.5 233.0,121.2 233.2,131.9 233.4,136.4 233.7,135.1 233.9,132.3 234.2,136.7 234.4,123.9 234.7,125.0 234.9,130.1 235.1,121.8 235.4,121.3 235.6,117.0 235.9,94.4 236.1,123.8 236.4,93.7 236.6,137.8 236.9,101.0 237.1,134.2 237.3,138.8 237.6,108.4 237.8,149.2 238.1,147.1 238.3,152.2 238.6,158.4 238.8,170.4 239.0,168.4 239.3,162.9 239.5,155.8 239.8,133.7 240.0,168.0 240.3,159.7 240.5,170.8 240.8,193.2 241.0,170.8 241.2,190.4 241.5,160.4 241.7,158.5 242.0,158.8 242.2,114.5 242.5,155.9 242.7,154.2 242.9,160.3 243.2,157.7 243.4,145.8 243.7,204.1 243.9,152.5 244.2,148.8 244.4,178.9 244.7,145.8 244.9,142.7 245.1,145.9 245.4,149.0 245.6,101.1 245.9,147.2 246.1,154.9 246.4,155.6 246.6,103.3 246.8,154.5 247.1,199.9 247.3,161.4 247.6,147.9 247.8,142.4 248.1,144.8 248.3,158.2 248.5,167.6 248.8,143.7 249.0,143.6 249.3,137.1 249.5,155.0 249.8,127.7 250.0,144.6 250.3,141.4 250.5,142.1 250.7,144.7 251.0,146.4 251.2,146.0 251.5,141.4 251.7,151.0 252.0,133.1 252.2,137.2 252.4,122.5 252.7,89.5 252.9,98.2 253.2,128.6 253.4,122.7 253.7,111.7 253.9,114.3 254.2,116.3 254.4,114.1 254.6,108.6 254.9,128.1 255.1,123.9 255.4,95.6 255.6,127.7 255.9,129.6 256.1,125.3 256.3,190.0 256.6,126.6 256.8,124.1 257.1,67.7 257.3,93.9 257.6,127.5 257.8,122.5 258.1,100.7 258.3,128.5 258.5,129.2 258.8,130.6 259.0,122.0 259.3,131.4 259.5,140.4 259.8,140.4 260.0,119.6 260.2,172.2 260.5,116.0 260.7,112.1 261.0,105.9 261.2,108.4 261.5,112.2 261.7,216.8 262.0,102.0 262.2,221.5 262.4,108.5 262.7,100.8 262.9,87.4 263.2,99.5 263.4,95.9 263.7,108.7 263.9,109.9 264.1,107.3 264.4,103.6 264.6,101.4 264.9,94.1 265.1,110.9 265.4,113.4 265.6,126.2 265.9,120.8 266.1,124.8 266.3,123.1 266.6,146.6 266.8,120.4 267.1,112.0 267.3,118.8 267.6,107.0 267.8,109.2 268.0,124.4 268.3,85.5 268.5,136.1 268.8,132.7 269.0,163.6 269.3,140.4 269.5,138.4 269.8,148.8 270.0,146.1 270.2,125.2 270.5,124.2 270.7,145.1 271.0,139.2 271.2,139.3 271.5,145.6 271.7,234.7 271.9,128.9 272.2,123.1 272.4,117.2 272.7,112.4 272.9,115.9 273.2,109.2 273.4,104.4 273.7,228.8 273.9,108.9 274.1,117.5 274.4,122.1 274.6,117.8 274.9,123.1 275.1,125.2 275.4,116.8 275.6,112.4 275.8,119.1 276.1,117.8 276.3,113.3 276.6,119.0 276.8,124.4 277.1,113.9 277.3,130.6 277.5,87.8 277.8,107.2 278.0,110.8 278.3,118.2 278.5,123.0 278.8,126.8 279.0,137.0 279.3,113.0 279.5,171.5 279.7,130.0 280.0,96.2 280.2,115.8 280.5,136.3 280.7,169.1 281.0,122.3 281.2,133.3 281.4,143.7 281.7,134.8 281.9,224.1 282.2,152.5 282.4,163.7 282.7,158.7 282.9,119.6 283.2,151.7 283.4,141.0 283.6,145.2 283.9,152.2 284.1,172.5 284.4,161.5 284.6,165.4 284.9,169.6 285.1,138.7 285.3,236.9 285.6,166.8 285.8,169.1 286.1,157.7 286.3,159.6 286.6,150.6 286.8,150.0 287.1,141.0 287.3,138.1 287.5,107.8 287.8,133.0 288.0,135.2 288.3,140.4 288.5,139.1 288.8,138.5 289.0,147.2 289.2,137.5 289.5,123.8 289.7,139.1 290.0,140.3 290.2,124.0 290.5,143.0 290.7,143.6 291.0,137.5 291.2,140.1 291.4,136.7 291.7,139.4 291.9,137.7 292.2,114.3 292.4,113.0 292.7,63.2 292.9,99.2 293.1,126.6 293.4,124.3 293.6,129.6 293.9,133.0 294.1,125.1 294.4,132.8 294.6,135.1 294.9,154.6 295.1,142.4 295.3,153.1 295.6,143.3 295.8,145.2 296.1,144.8 296.3,249.5 296.6,159.7 296.8,139.6 297.0,138.7 297.3,132.5 297.5,123.8 297.8,130.0 298.0,137.3 298.3,139.2 298.5,150.0 298.8,134.9 299.0,131.3 299.2,121.2 299.5,125.0 299.7,122.6 300.0,202.4 300.2,121.2 300.5,107.7 300.7,103.4 300.9,107.0 301.2,111.3 301.4,113.8 301.7,108.2 301.9,104.8 302.2,116.7 302.4,110.3 302.7,120.8 302.9,113.6 303.1,100.2 303.4,66.6 303.6,96.8 303.9,107.9 304.1,183.0 304.4,101.9 304.6,96.7 304.8,101.8 305.1,133.9 305.3,98.7 305.6,103.3 305.8,105.6 306.1,187.9 306.3,106.8 306.6,176.2 306.8,108.1 307.0,207.1 307.3,104.7 307.5,110.5 307.8,145.9 308.0,125.5 308.3,124.7 308.5,128.9 308.7,129.1 309.0,105.0 309.2,133.2 309.5,144.7 309.7,135.6 310.0,96.7 310.2,119.0 310.4,95.0 310.7,158.4 310.9,158.4 311.2,158.4 311.4,158.4 311.7,158.4 311.9,158.4 312.2,158.4 312.4,158.4 312.6,158.4 312.9,158.4 313.1,158.4 313.4,158.4 313.6,158.4 313.9,158.4 314.1,158.4 314.3,158.4 314.6,158.4 314.8,158.4 315.1,158.4 315.3,158.4 315.6,158.4 315.8,158.4 316.1,158.4 316.3,158.4 316.5,158.4 316.8,158.4 317.0,158.4 317.3,158.4 317.5,158.4 317.8,158.4 318.0,158.4 318.2,158.4 318.5,158.4 318.7,158.4 319.0,158.4 319.2,158.4 319.5,158.4 319.7,158.4 320.0,158.4 320.2,158.4 320.4,158.4 320.7,158.4 320.9,158.4 321.2,158.4 321.4,158.4 321.7,158.4 321.9,158.4 322.1,158.4 322.4,158.4 322.6,158.4 322.9,158.4 323.1,158.4 323.4,158.4 323.6,158.4 323.9,158.4 324.1,158.4 324.3,158.4 324.6,158.4 324.8,158.4 325.1,158.4 325.3,158.4 325.6,158.4 325.8,158.4 326.0,158.4 326.3,158.4 326.5,158.4 326.8,158.4 327.0,158.4 327.3,158.4 327.5,158.4 327.8,158.4 328.0,158.4 328.2,158.4 328.5,158.4 328.7,158.4 329.0,158.4 329.2,158.4 329.5,158.4 329.7,158.4 329.9,158.4 330.2,158.4 330.4,158.4 330.7,158.4 330.9,158.4 331.2,158.4 331.4,158.4 331.7,158.4 331.9,158.4 332.1,158.4 332.4,158.4 332.6,158.4 332.9,158.4 333.1,158.4 333.4,158.4 333.6,158.4 333.8,158.4 334.1,158.4 334.3,158.4 334.6,158.4 334.8,158.4 335.1,158.4 335.3,158.4 335.6,158.4 335.8,158.4 336.0,158.4 336.3,158.4 336.5,158.4 336.8,158.4 337.0,158.4 337.3,158.4 337.5,158.4 337.7,158.4 338.0,158.4 338.2,158.4 338.5,158.4 338.7,158.4 339.0,158.4 339.2,158.4 339.4,158.4 339.7,158.4 339.9,158.4 340.2,158.4 340.4,158.4 340.7,158.4 340.9,158.4 341.2,158.4 341.4,158.4 341.6,158.4 341.9,158.4 342.1,158.4 342.4,158.4 342.6,158.4 342.9,158.4 343.1,158.4 343.3,158.4 343.6,158.4 343.8,158.4 344.1,158.4 344.3,158.4 344.6,158.4 344.8,158.4 345.1,158.4 345.3,158.4 345.5,158.4 345.8,158.4 346.0,158.4 346.3,158.4 346.5,158.4 346.8,158.4 347.0,158.4 347.2,158.4 347.5,158.4 347.7,158.4 348.0,158.4 348.2,158.4 348.5,158.4 348.7,158.4 349.0,158.4 349.2,158.4 349.4,158.4 349.7,158.4 349.9,158.4 350.2,158.4 350.4,158.4 350.7,158.4 350.9,158.4 351.1,158.4 351.4,158.4 351.6,158.4 351.9,158.4 352.1,158.4 352.4,158.4 352.6,158.4 352.9,158.4 353.1,158.4 353.3,158.4 353.6,158.4 353.8,158.4 354.1,158.4 354.3,158.4 354.6,158.4 354.8,158.4 355.0,158.4 355.3,158.4 355.5,158.4 355.8,158.4 356.0,158.4 356.3,158.4 356.5,158.4 356.8,158.4 357.0,158.4 357.2,158.4 357.5,158.4 357.7,158.4 358.0,158.4 358.2,158.4 358.5,158.4 358.7,158.4 358.9,158.4 359.2,158.4 359.4,158.4 359.7,158.4 359.9,158.4 360.2,158.4 360.4,158.4 360.7,158.4 360.9,158.4 361.1,158.4 361.4,158.4 361.6,158.4 361.9,158.4 362.1,158.4 362.4,158.4 362.6,158.4 362.8,158.4 363.1,158.4 363.3,158.4 363.6,158.4 363.8,158.4 364.1,158.4 364.3,158.4 364.6,158.4 364.8,158.4 365.0,158.4 365.3,158.4 365.5,158.4 365.8,158.4 366.0,158.4 366.3,158.4 366.5,158.4 366.7,158.4 367.0,158.4 367.2,158.4 367.5,158.4 367.7,158.4 368.0,158.4 368.2,158.4 368.5,158.4 368.7,158.4 368.9,158.4 369.2,158.4 369.4,158.4 369.7,158.4 369.9,158.4 370.2,158.4 370.4,158.4 370.6,158.4 370.9,158.4 371.1,158.4 371.4,158.4 371.6,158.4 371.9,158.4 372.1,158.4 372.3,158.4 372.6,158.4 372.8,158.4 373.1,158.4 373.3,158.4 373.6,158.4 373.8,158.4 374.1,158.4 374.3,158.4 374.5,158.4 374.8,158.4 375.0,158.4 375.3,158.4 375.5,158.4 375.8,158.4 376.0,158.4 376.2,158.4 376.5,158.4 376.7,158.4 377.0,158.4 377.2,158.4 377.5,158.4 377.7,158.4 378.0,158.4 378.2,158.4 378.4,158.4 378.7,158.4 378.9,158.4 379.2,158.4 379.4,158.4 379.7,158.4 379.9,158.4 380.1,158.4 380.4,158.4 380.6,158.4 380.9,158.4 381.1,158.4 381.4,158.4 381.6,158.4 381.9,158.4 382.1,158.4 382.3,158.4 382.6,158.4 382.8,158.4 383.1,158.4 383.3,158.4 383.6,158.4 383.8,158.4 384.0,158.4 384.3,158.4 384.5,158.4 384.8,158.4 385.0,158.4 385.3,158.4 385.5,158.4 385.8,158.4 386.0,158.4 386.2,158.4 386.5,158.4 386.7,158.4 387.0,158.4 387.2,158.4 387.5,158.4 387.7,158.4 387.9,158.4 388.2,158.4 388.4,158.4 388.7,158.4 388.9,158.4 389.2,158.4 389.4,158.4 389.7,158.4 389.9,158.4 390.1,158.4 390.4,158.4 390.6,158.4 390.9,158.4 391.1,158.4 391.4,158.4 391.6,158.4 391.8,158.4 392.1,158.4 392.3,158.4 392.6,158.4 392.8,158.4 393.1,158.4 393.3,158.4 393.6,158.4 393.8,158.4 394.0,158.4 394.3,158.4 394.5,158.4 394.8,158.4 395.0,158.4 395.3,158.4 395.5,158.4 395.7,158.4 396.0,158.4 396.2,158.4 396.5,158.4 396.7,158.4 397.0,158.4 397.2,158.4 397.5,158.4 397.7,158.4 397.9,158.4 398.2,158.4 398.4,158.4 398.7,158.4 398.9,158.4 399.2,158.4 399.4,158.4 399.6,158.4 399.9,158.4 400.1,158.4 400.4,158.4 400.6,158.4 400.9,158.4 401.1,158.4 401.3,158.4 401.6,158.4 401.8,158.4 402.1,158.4 402.3,158.4 402.6,158.4 402.8,158.4 403.1,158.4 403.3,158.4 403.5,158.4 403.8,158.4 404.0,158.4 404.3,158.4 404.5,158.4 404.8,158.4 405.0,158.4 405.2,158.4 405.5,158.4 405.7,158.4 406.0,158.4 406.2,158.4 406.5,158.4 406.7,158.4 407.0,158.4 407.2,158.4 407.4,158.4 407.7,158.4 407.9,158.4 408.2,158.4 408.4,158.4 408.7,158.4 408.9,158.4 409.1,158.4 409.4,158.4 409.6,158.4 409.9,158.4 410.1,158.4 410.4,158.4 410.6,158.4 410.9,158.4 411.1,158.4 411.3,158.4 411.6,158.4 411.8,158.4 412.1,158.4 412.3,158.4 412.6,158.4 412.8,158.4 413.0,158.4 413.3,158.4 413.5,158.4 413.8,158.4 414.0,158.4 414.3,158.4 414.5,158.4 414.8,158.4 415.0,158.4 415.2,158.4 415.5,158.4 415.7,158.4 416.0,158.4 416.2,158.4 416.5,158.4 416.7,158.4 416.9,158.4 417.2,158.4 417.4,158.4 417.7,158.4 417.9,158.4 418.2,158.4 418.4,158.4 418.7,158.4 418.9,158.4 419.1,158.4 419.4,158.4 419.6,158.4 419.9,158.4 420.1,158.4 420.4,158.4 420.6,158.4 420.8,158.4 421.1,158.4 421.3,158.4 421.6,158.4 421.8,158.4 422.1,158.4 422.3,158.4 422.6,158.4 422.8,158.4 423.0,158.4 423.3,158.4 423.5,158.4 423.8,158.4 424.0,158.4 424.3,158.4 424.5,158.4 424.7,158.4 425.0,158.4 425.2,158.4 425.5,158.4 425.7,158.4 426.0,158.4 426.2,158.4 426.5,158.4 426.7,158.4 426.9,158.4 427.2,158.4 427.4,158.4 427.7,158.4 427.9,158.4 428.2,158.4 428.4,158.4 428.6,158.4 428.9,158.4 429.1,158.4 429.4,158.4 429.6,158.4 429.9,158.4 430.1,158.4 430.3,158.4 430.6,158.4 430.8,158.4 431.1,158.4 431.3,158.4 431.6,158.4 431.8,158.4 432.1,158.4 432.3,158.4 432.5,158.4 432.8,158.4 433.0,158.4 433.3,158.4 433.5,158.4 433.8,158.4 434.0,158.4 434.2,158.4 434.5,513.3 434.7,170.2 435.0,166.7 435.2,162.7 435.5,158.6 435.7,150.3 436.0,158.0 436.2,198.0 436.4,162.8 436.7,164.8 436.9,134.4 437.2,166.5 437.4,171.4 437.7,164.4 437.9,110.8 438.1,154.2 438.4,153.1 438.6,155.7 438.9,153.1 439.1,160.5 439.4,150.3 439.6,149.7 439.9,205.1 440.1,169.1 440.3,145.1 440.6,146.8 440.8,147.8 441.1,144.2 441.3,151.6 441.6,153.9 441.8,168.9 442.0,131.0 442.3,128.7 442.5,129.6 442.8,130.5 443.0,125.3 443.3,163.4 443.5,134.1 443.8,127.4 444.0,138.2 444.2,123.7 444.5,127.6 444.7,132.3 445.0,122.7 445.2,144.0 445.5,104.2 445.7,109.9 445.9,119.5 446.2,120.9 446.4,119.9 446.7,91.6 446.9,120.7 447.2,117.7 447.4,112.1 447.7,119.7 447.9,92.2 448.1,122.7 448.4,137.5 448.6,138.9 448.9,141.1 449.1,128.2 449.4,161.6 449.6,136.8 449.8,148.8 450.1,120.8 450.3,114.4 450.6,104.5 450.8,94.5 451.1,122.7 451.3,131.4 451.6,135.6 451.8,97.7 452.0,106.8 452.3,115.1 452.5,138.4 452.8,107.6 453.0,122.9 453.3,107.0 453.5,135.1 453.7,132.2 454.0,133.8 454.2,131.7 454.5,120.8 454.7,99.9 455.0,170.2 455.2,120.1 455.5,119.8 455.7,127.9 455.9,114.3 456.2,122.2 456.4,128.0 456.7,125.7 456.9,121.4 457.2,124.5 457.4,125.5 457.6,133.1 457.9,131.7 458.1,147.4 458.4,172.8 458.6,138.3 458.9,191.4 459.1,137.2 459.4,149.4 459.6,148.7 459.8,140.9 460.1,138.8 460.3,127.0 460.6,118.3 460.8,125.7 461.1,203.1 461.3,115.7 461.5,128.8 461.8,106.4 462.0,110.5 462.3,124.6 462.5,159.3 462.8,131.1 463.0,121.5 463.2,184.6 463.5,134.2 463.7,171.5 464.0,135.0 464.2,126.0 464.5,157.4 464.7,139.3 465.0,176.5 465.2,127.9 465.4,209.4 465.7,130.4 465.9,101.6 466.2,133.7 466.4,133.5 466.7,134.1 466.9,129.8 467.1,140.7 467.4,150.1 467.6,147.1 467.9,158.8 468.1,153.8 468.4,151.2 468.6,147.3 468.9,184.4 469.1,145.0 469.3,170.9 469.6,156.0 469.8,132.4 470.1,155.3 470.3,221.2 470.6,149.9 470.8,139.6 471.0,159.8 471.3,149.2 471.5,134.1 471.8,241.6 472.0,128.5 472.3,172.1 472.5,131.0 472.8,124.4 473.0,127.4 473.2,122.1 473.5,124.1 473.7,123.2 474.0,280.5 474.2,117.6 474.5,116.0 474.7,104.0 474.9,115.4 475.2,199.2 475.4,188.0 475.7,114.3 475.9,122.0 476.2,115.7 476.4,106.9 476.7,166.7 476.9,112.1 477.1,131.7 477.4,217.7 477.6,176.4 477.9,133.5 478.1,136.9 478.4,81.1 478.6,131.0 478.8,129.6 479.1,130.1 479.3,129.7 479.6,142.3 479.8,131.0 480.1,131.7 480.3,107.9 480.6,139.3 480.8,145.2 481.0,164.5 481.3,161.9 481.5,149.4 481.8,153.3 482.0,148.9 482.3,150.6 482.5,156.9 482.7,149.9 483.0,145.4 483.2,104.8 483.5,151.9 483.7,152.3 484.0,139.1 484.2,143.8 484.5,145.3 484.7,138.0 484.9,154.4 485.2,156.2 485.4,101.9 485.7,144.4 485.9,165.4 486.2,249.3 486.4,217.2 486.6,184.3 486.9,177.0 487.1,167.8 487.4,192.1 487.6,163.4 487.9,193.4 488.1,166.0 488.4,122.8 488.6,170.2 488.8,212.1 489.1,203.0 489.3,211.7 489.6,174.9 489.8,173.7 490.1,185.0 490.3,185.4 490.5,184.1 490.8,178.2 491.0,176.5 491.3,173.6 491.5,181.8 491.8,182.2 492.0,176.0 492.2,182.1 492.5,183.9 492.7,185.4 493.0,178.1 493.2,141.0 493.5,163.1 493.7,169.7 494.0,245.1 494.2,177.1 494.4,227.5 494.7,171.6 494.9,117.8 495.2,167.4 495.4,166.0 495.7,162.9 495.9,166.0 496.1,170.5 496.4,169.7 496.6,167.7 496.9,249.8 497.1,200.8 497.4,179.2 497.6,190.5 497.9,186.8 498.1,182.1 498.3,162.9 498.6,250.7 498.8,184.2 499.1,185.7 499.3,186.0 499.6,181.6 499.8,165.8 500.0,159.8 500.3,177.1 500.5,169.6 500.8,221.5 501.0,140.1 501.3,173.1 501.5,174.5 501.8,189.4 502.0,165.2 502.2,198.8 502.5,161.7 502.7,158.7 503.0,147.9 503.2,150.2 503.5,146.7 503.7,147.8 503.9,157.9 504.2,146.1 504.4,126.0 504.7,97.7 504.9,154.5 505.2,134.7 505.4,137.8 505.7,139.0 505.9,161.2 506.1,129.9 506.4,85.5 506.6,124.3 506.9,115.2 507.1,111.9 507.4,96.4 507.6,107.1 507.8,108.6 508.1,162.8 508.3,113.7 508.6,111.2 508.8,112.3 509.1,111.5 509.3,109.9 509.6,118.0 509.8,92.8 510.0,115.0 510.3,108.6 510.5,111.8 510.8,118.3 511.0,124.0 511.3,133.0 511.5,141.2 511.7,135.1 512.0,130.4 512.2,127.0 512.5,131.2 512.7,133.1 513.0,141.7 513.2,141.1 513.5,145.8 513.7,83.3 513.9,149.7 514.2,120.0 514.4,125.0 514.7,127.2 514.9,122.8 515.2,125.6 515.4,133.1 515.6,123.7 515.9,120.0 516.1,119.1 516.4,112.1 516.6,106.8 516.9,110.2 517.1,97.4 517.4,94.8 517.6,116.5 517.8,127.0 518.1,140.6 518.3,95.7 518.6,112.2 518.8,114.0 519.1,123.1 519.3,121.2 519.5,125.3 519.8,128.3 520.0,134.7 520.3,141.6 520.5,139.4 520.8,144.0 521.0,126.5 521.2,76.6 521.5,113.1 521.7,112.2 522.0,94.5 522.2,109.0 522.5,111.9 522.7,119.4 523.0,110.5 523.2,96.4 523.4,100.1 523.7,103.9 523.9,100.3 524.2,112.7 524.4,102.1 524.7,118.2 524.9,113.9 525.1,118.2 525.4,136.6 525.6,112.0 525.9,112.4 526.1,178.2 526.4,121.3 526.6,125.1 526.9,120.6 527.1,125.4 527.3,133.2 527.6,128.5 527.8,135.4 528.1,92.2 528.3,114.5 528.6,114.1 528.8,119.3 529.0,122.0 529.3,104.1 529.5,97.0 529.8,115.1 530.0,170.3 530.3,91.4 530.5,122.0 530.8,132.0 531.0,120.4 531.2,188.9 531.5,95.7 531.7,136.0 532.0,134.7 532.2,157.4 532.5,219.2 532.7,90.8 532.9,124.6 533.2,173.0 533.4,114.4 533.7,138.1 533.9,103.7 534.2,108.7 534.4,100.3 534.7,104.1 534.9,100.2 535.1,109.7 535.4,101.1 535.6,102.9 535.9,99.2 536.1,98.0 536.4,55.4 536.6,93.9 536.8,105.3 537.1,110.1 537.3,93.5 537.6,99.5 537.8,99.9 538.1,123.5 538.3,95.5 538.6,118.2 538.8,105.8 539.0,98.7 539.3,100.3 539.5,102.0 539.8,141.6 540.0,120.9 540.3,156.5 540.5,120.1 540.7,123.5 541.0,98.7 541.2,75.5 541.5,133.3 541.7,128.9 542.0,132.0 542.2,120.3 542.5,116.1 542.7,112.9 542.9,121.0 543.2,122.7 543.4,128.0 543.7,120.4 543.9,212.1 544.2,123.1 544.4,136.9 544.6,126.7 544.9,137.7 545.1,135.5 545.4,139.4 545.6,142.7 545.9,153.9 546.1,141.4 546.4,166.2 546.6,136.1 546.8,150.2 547.1,126.8 547.3,135.6 547.6,123.6 547.8,130.8 548.1,130.8 548.3,136.2 548.5,147.3 548.8,139.4 549.0,139.2 549.3,122.4 549.5,130.8 549.8,145.1 550.0,141.0 550.3,129.3 550.5,45.4 550.7,120.2 551.0,113.6 551.2,126.2 551.5,127.3 551.7,130.9 552.0,124.3 552.2,124.4 552.4,135.4 552.7,117.1 552.9,138.4 553.2,137.2 553.4,132.9 553.7,121.5 553.9,106.8 554.1,113.4 554.4,113.8 554.6,124.7 554.9,138.5 555.1,131.1 555.4,127.3 555.6,118.8 555.9,118.4 556.1,224.8 556.3,132.3 556.6,119.1 556.8,124.5 557.1,144.6 557.3,156.7 557.6,138.2 557.8,128.3 558.0,136.9 558.3,236.8 558.5,127.8 558.8,121.0 559.0,238.6 559.3,121.4 559.5,118.9 559.8,183.5 560.0,157.0 560.2,201.5 560.5,112.3 560.7,140.5 561.0,135.6 561.2,144.0 561.5,142.3 561.7,157.0 561.9,184.9 562.2,147.1 562.4,98.1 562.7,143.5 562.9,140.1 563.2,126.9 563.4,130.9 563.7,124.6 563.9,134.4 564.1,146.0 564.4,144.5 564.6,142.8 564.9,143.1 565.1,103.3 565.4,145.9 565.6,138.8 565.8,127.3 566.1,159.0 566.3,177.8 566.6,96.6 566.8,150.5 567.1,148.9 567.3,130.9 567.6,114.7 567.8,108.6 568.0,117.1 568.3,132.2 568.5,119.0 568.8,232.5 569.0,135.2 569.3,144.0 569.5,123.5 569.7,137.6 570.0,145.5 570.2,142.5 570.5,135.1 570.7,176.4 571.0,149.5 571.2,146.7 571.5,149.1 571.7,140.8 571.9,154.1 572.2,136.1 572.4,143.3 572.7,155.0 572.9,160.7 573.2,163.0 573.4,166.7 573.6,161.4 573.9,176.8 574.1,182.3 574.4,187.1 574.6,181.7 574.9,176.8 575.1,203.5 575.4,194.0 575.6,182.3 575.8,178.5 576.1,140.7 576.3,186.6 576.6,177.8 576.8,173.9 577.1,170.1 577.3,211.3 577.5,184.0 577.8,173.1 578.0,169.7 578.3,164.2 578.5,169.5 578.8,160.5 579.0,192.6 579.3,148.7 579.5,166.8 579.7,186.0 580.0,154.8 580.2,251.8 580.5,157.0 580.7,210.9 581.0,166.4 581.2,154.9 581.4,161.7 581.7,159.2 581.9,116.6 582.2,160.8 582.4,169.3 582.7,175.8 582.9,171.7 583.1,168.3 583.4,173.6 583.6,178.1 583.9,182.3 584.1,174.0 584.4,177.5 584.6,166.4 584.9,170.7 585.1,176.2 585.3,210.9 585.6,172.1 585.8,182.7 586.1,151.0 586.3,128.1 586.6,160.8 586.8,163.7 587.0,141.2 587.3,159.7 587.5,154.5 587.8,150.8 588.0,239.4 588.3,149.4 588.5,156.5 588.8,155.3 589.0,146.2 589.2,126.3 589.5,152.6 589.7,126.3 590.0,171.6 590.2,127.3 590.5,137.5 590.7,147.8 590.9,144.2 591.2,101.1 591.4,141.7 591.7,133.3 591.9,133.5 592.2,174.4 592.4,168.9 592.7,143.7 592.9,150.3 593.1,118.4 593.4,148.4 593.6,142.3 593.9,140.8 594.1,133.6 594.4,149.2 594.6,99.2 594.8,136.8 595.1,132.1 595.3,137.5 595.6,127.0 595.8,130.9 596.1,118.8 596.3,127.7 596.6,130.4 596.8,129.2 597.0,164.0 597.3,130.0 597.5,92.6 597.8,130.7 598.0,99.6 598.3,111.7 598.5,117.0 598.7,122.1 599.0,111.2 599.2,112.3 599.5,115.7 599.7,115.2 600.0,125.1 600.2,139.9 600.5,132.7 600.7,140.1 600.9,145.4 601.2,145.5 601.4,139.1 601.7,128.1 601.9,133.6 602.2,139.1 602.4,128.9 602.6,144.3 602.9,77.7 603.1,139.6 603.4,138.2 603.6,99.0 603.9,133.1 604.1,134.9 604.4,124.2 604.6,124.7 604.8,133.4 605.1,141.1 605.3,197.7 605.6,229.5 605.8,147.8 606.1,147.2 606.3,140.9 606.5,248.2 606.8,145.6 607.0,144.7 607.3,150.7 607.5,169.4 607.8,81.1 608.0,164.3 608.3,149.2 608.5,193.7 608.7,154.2 609.0,151.8 609.2,147.7 609.5,118.6 609.7,142.1 610.0,106.5 610.2,142.0 610.4,134.8 610.7,241.8 610.9,164.2 611.2,235.4 611.4,146.6 611.7,145.4 611.9,147.2 612.2,138.4 612.4,146.8 612.6,138.8 612.9,134.2 613.1,138.8 613.4,97.9 613.6,134.4 613.9,150.0 614.1,135.4 614.3,130.9 614.6,132.6 614.8,163.9 615.1,119.0 615.3,120.9 615.6,235.1 615.8,122.0 616.0,121.8 616.3,132.7 616.5,120.8 616.8,130.5 617.0,120.7 617.3,120.4 617.5,175.0 617.8,125.7 618.0,131.6 618.2,132.8 618.5,124.4 618.7,136.6 619.0,162.5 619.2,125.8 619.5,126.1 619.7,112.7 619.9,171.9 620.2,113.0 620.4,119.3 620.7,111.8 620.9,139.3 621.2,114.9 621.4,97.0 621.7,105.2 621.9,171.5 622.1,115.9 622.4,94.5 622.6,121.5 622.9,99.0 623.1,112.2 623.4,105.5 623.6,107.5 623.8,105.4 624.1,218.3 624.3,100.3 624.6,112.9 624.8,101.1 625.1,112.3 625.3,116.9 625.6,109.7 625.8,92.2 626.0,103.3 626.3,119.8 626.5,124.3 626.8,144.9 627.0,172.6 627.3,130.5 627.5,123.5 627.7,130.7 628.0,146.2 628.2,132.0 628.5,127.6 628.7,124.3 629.0,135.5 629.2,128.7 629.5,140.9 629.7,146.3 629.9,174.0 630.2,142.7 630.4,139.2 630.7,125.9 630.9,145.9 631.2,130.8 631.4,134.0 631.6,134.4 631.9,135.8 632.1,146.8 632.4,142.2 632.6,135.9 632.9,139.9 633.1,152.1 633.4,137.7 633.6,146.2 633.8,124.2 634.1,141.2 634.3,157.0 634.6,153.5 634.8,174.3 635.1,156.9 635.3,147.7 635.5,144.7 635.8,142.1 636.0,99.7 636.3,107.8 636.5,158.1 636.8,119.3 637.0,112.6 637.3,117.0 637.5,147.2 637.7,118.0 638.0,126.0 638.2,156.3 638.5,242.3 638.7,142.9 639.0,142.9 639.2,125.1 639.4,131.6 639.7,98.1 639.9,130.9 640.2,142.8 640.4,118.9 640.7,126.9 640.9,119.0 641.2,110.3 641.4,160.9 641.6,151.3 641.9,106.9 642.1,127.4 642.4,124.2 642.6,121.4 642.9,115.2 643.1,118.6 643.3,129.5 643.6,120.5 643.8,110.0 644.1,113.2 644.3,116.6 644.6,123.6 644.8,164.6 645.0,114.1 645.3,115.2 645.5,119.8 645.8,117.3 646.0,116.4 646.3,118.0 646.5,99.1 646.8,118.3 647.0,136.6 647.2,158.4 647.5,133.2 647.7,160.8 648.0,160.8 648.2,160.8 648.5,160.8 648.7,160.8 648.9,160.8 649.2,160.8 649.4,160.8 649.7,160.8 649.9,160.8 650.2,160.8 650.4,160.8 650.7,160.8 650.9,160.8 651.1,160.8 651.4,160.8 651.6,160.8 651.9,160.8 652.1,160.8 652.4,160.8 652.6,160.8 652.8,160.8 653.1,160.8 653.3,160.8 653.6,160.8 653.8,160.8 654.1,160.8 654.3,160.8 654.6,160.8 654.8,160.8 655.0,160.8 655.3,160.8 655.5,160.8 655.8,160.8 656.0,160.8 656.3,160.8 656.5,160.8 656.7,160.8 657.0,160.8 657.2,160.8 657.5,160.8 657.7,160.8 658.0,160.8 658.2,160.8 658.5,160.8 658.7,160.8 658.9,160.8 659.2,160.8 659.4,160.8 659.7,160.8 659.9,160.8 660.2,160.8 660.4,160.8 660.6,160.8 660.9,160.8 661.1,160.8 661.4,160.8 661.6,160.8 661.9,160.8 662.1,160.8 662.4,160.8 662.6,160.8 662.8,160.8 663.1,160.8 663.3,160.8 663.6,160.8 663.8,160.8 664.1,160.8 664.3,160.8 664.5,160.8 664.8,160.8 665.0,160.8 665.3,160.8 665.5,160.8 665.8,160.8 666.0,160.8 666.3,160.8 666.5,160.8 666.7,160.8 667.0,160.8 667.2,160.8 667.5,160.8 667.7,160.8 668.0,160.8 668.2,160.8 668.4,160.8 668.7,160.8 668.9,160.8 669.2,160.8 669.4,160.8 669.7,160.8 669.9,160.8 670.2,160.8 670.4,160.8 670.6,160.8 670.9,160.8 671.1,160.8 671.4,160.8 671.6,160.8 671.9,160.8 672.1,160.8 672.3,160.8 672.6,160.8 672.8,160.8 673.1,160.8 673.3,160.8 673.6,160.8 673.8,160.8 674.0,160.8 674.3,160.8 674.5,160.8 674.8,160.8 675.0,160.8 675.3,160.8 675.5,160.8 675.8,160.8 676.0,160.8 676.2,160.8 676.5,160.8 676.7,160.8 677.0,160.8 677.2,160.8 677.5,160.8 677.7,160.8 677.9,160.8 678.2,160.8 678.4,160.8 678.7,160.8 678.9,160.8 679.2,160.8 679.4,160.8 679.7,160.8 679.9,160.8 680.1,160.8 680.4,160.8 680.6,160.8 680.9,160.8 681.1,160.8 681.4,160.8 681.6,160.8 681.8,160.8 682.1,160.8 682.3,160.8 682.6,160.8 682.8,160.8 683.1,160.8 683.3,160.8 683.6,160.8 683.8,160.8 684.0,160.8 684.3,160.8 684.5,160.8 684.8,160.8 685.0,160.8 685.3,160.8 685.5,160.8 685.7,160.8 686.0,160.8 686.2,160.8 686.5,160.8 686.7,160.8 687.0,160.8 687.2,160.8 687.5,160.8 687.7,160.8 687.9,160.8 688.2,160.8 688.4,160.8 688.7,160.8 688.9,160.8 689.2,160.8 689.4,160.8 689.6,160.8 689.9,160.8 690.1,160.8 690.4,160.8 690.6,160.8 690.9,160.8 691.1,160.8 691.4,160.8 691.6,160.8 691.8,160.8 692.1,160.8 692.3,160.8 692.6,160.8 692.8,160.8 693.1,160.8 693.3,160.8 693.5,160.8 693.8,160.8 694.0,160.8 694.3,160.8 694.5,160.8 694.8,160.8 695.0,160.8 695.3,160.8 695.5,160.8 695.7,160.8 696.0,160.8 696.2,160.8 696.5,160.8 696.7,160.8 697.0,160.8 697.2,160.8 697.4,160.8 697.7,160.8 697.9,160.8 698.2,160.8 698.4,160.8 698.7,160.8 698.9,160.8 699.2,160.8 699.4,160.8 699.6,160.8 699.9,160.8 700.1,160.8 700.4,160.8 700.6,160.8 700.9,160.8 701.1,160.8 701.3,160.8 701.6,160.8 701.8,160.8 702.1,160.8 702.3,160.8 702.6,160.8 702.8,160.8 703.1,160.8 703.3,160.8 703.5,160.8 703.8,160.8 704.0,160.8 704.3,160.8 704.5,160.8 704.8,160.8 705.0,160.8 705.2,160.8 705.5,160.8 705.7,160.8 706.0,160.8 706.2,160.8 706.5,160.8 706.7,160.8 706.9,160.8 707.2,160.8 707.4,160.8 707.7,160.8 707.9,160.8 708.2,160.8 708.4,160.8 708.7,160.8"/>
<rect class="sp" x="128.1" y="19.9" width="606.7" height="517.1"/>
<line class="tk" x1="121.6" y1="53.8" x2="128.1" y2="53.8"/>
<text class="t" text-anchor="end" x="115.4" y="64.9">20</text>
<line class="tk" x1="121.6" y1="121.9" x2="128.1" y2="121.9"/>
<text class="t" text-anchor="end" x="115.4" y="133.0">10</text>
<line class="tk" x1="121.6" y1="189.9" x2="128.1" y2="189.9"/>
<text class="t" text-anchor="end" x="115.4" y="201.0">0</text>
<line class="tk" x1="121.6" y1="257.9" x2="128.1" y2="257.9"/>
<text class="t" text-anchor="end" x="115.4" y="269.0">−10</text>
<line class="tk" x1="121.6" y1="326.0" x2="128.1" y2="326.0"/>
<text class="t" text-anchor="end" x="115.4" y="337.1">−20</text>
<line class="tk" x1="121.6" y1="394.0" x2="128.1" y2="394.0"/>
<text class="t" text-anchor="end" x="115.4" y="405.1">−30</text>
<line class="tk" x1="121.6" y1="462.0" x2="128.1" y2="462.0"/>
<text class="t" text-anchor="end" x="115.4" y="473.1">−40</text>
<line class="tk" x1="121.6" y1="530.0" x2="128.1" y2="530.0"/>
<text class="t" text-anchor="end" x="115.4" y="541.1">−50</text>
<line class="tk" x1="734.8" y1="513.3" x2="741.3" y2="513.3"/>
<text class="t" x="747.5" y="524.4">0</text>
<line class="tk" x1="734.8" y1="401.9" x2="741.3" y2="401.9"/>
<text class="t" x="747.5" y="413.0">5</text>
<line class="tk" x1="734.8" y1="290.5" x2="741.3" y2="290.5"/>
<text class="t" x="747.5" y="301.6">10</text>
<line class="tk" x1="734.8" y1="179.1" x2="741.3" y2="179.1"/>
<text class="t" x="747.5" y="190.2">15</text>
<line class="tk" x1="734.8" y1="67.7" x2="741.3" y2="67.7"/>
<text class="t" x="747.5" y="78.8">20</text>
<line class="tk" x1="155.7" y1="537.0" x2="155.7" y2="543.5"/>
<text class="t" text-anchor="middle" x="155.7" y="572.3">0</text>
<line class="tk" x1="277.5" y1="537.0" x2="277.5" y2="543.5"/>
<text class="t" text-anchor="middle" x="277.5" y="572.3">500</text>
<line class="tk" x1="399.4" y1="537.0" x2="399.4" y2="543.5"/>
<text class="t" text-anchor="middle" x="399.4" y="572.3">1000</text>
<line class="tk" x1="521.2" y1="537.0" x2="521.2" y2="543.5"/>
<text class="t" text-anchor="middle" x="521.2" y="572.3">1500</text>
<line class="tk" x1="643.1" y1="537.0" x2="643.1" y2="543.5"/>
<text class="t" text-anchor="middle" x="643.1" y="572.3">2000</text>
<text class="a" text-anchor="middle" x="431.5" y="607.2">Iterations</text>
<text class="a" text-anchor="middle" transform="translate(42.6,281.9) rotate(-90)">Energy</text>
<text class="a" text-anchor="middle" transform="translate(814.0,279.4) rotate(-90)">Parameter-space distance</text>
<rect class="lg" x="582.6" y="27.6" width="145.8" height="58.7" rx="3.6" ry="3.6"/>
<line class="en" x1="588.8" y1="43.2" x2="628.4" y2="43.2"/>
<line class="di" x1="588.8" y1="70.0" x2="628.4" y2="70.0"/>
<text class="l" x="641.1" y="49.6">Energy</text>
<text class="l" x="641.1" y="76.4">Distance</text>
<text class="c" text-anchor="middle" x="419.3" y="690.0">(a)</text>
</g>
<g id="plot-b">
<polyline class="en" points="1048.9,156.2 1049.2,175.3 1049.4,194.4 1049.7,213.5 1049.9,232.6 1050.2,251.7 1050.4,270.8 1050.7,289.9 1050.9,315.2 1051.2,340.5 1051.4,359.3 1051.7,371.5 1051.9,383.8 1052.2,392.3 1052.4,400.8 1052.7,409.8 1052.9,418.8 1053.2,427.8 1053.4,436.8 1053.7,442.6 1053.9,448.4 1054.2,454.2 1054.5,460.0 1054.7,462.4 1055.0,464.7 1055.2,467.1 1055.5,469.5 1055.7,470.0 1056.0,470.4 1056.2,470.9 1056.5,471.3 1056.7,471.8 1057.0,472.2 1057.2,476.1 1057.5,480.0 1057.7,484.0 1058.0,487.9 1058.2,494.4 1058.5,501.0 1058.7,507.6 1059.0,515.8 1059.2,523.9 1059.5,527.0 1059.7,530.0 1060.0,525.3 1060.3,520.5 1060.5,525.3 1060.8,530.0 1061.0,525.6 1061.3,521.2 1061.5,525.6 1061.8,530.0 1062.0,528.0 1062.3,526.0 1062.5,528.3 1062.8,530.7 1063.0,530.0 1063.3,529.4 1063.5,528.7 1063.8,529.3 1064.0,529.9 1064.3,530.5 1064.5,531.1 1064.8,530.9 1065.0,530.7 1065.3,530.6 1065.6,530.4 1065.8,530.2 1066.1,530.0 1066.3,530.2 1066.6,530.4 1066.8,530.6 1067.1,530.8 1067.3,531.0 1067.6,531.2 1067.8,531.4 1068.1,531.4 1068.3,531.4 1068.6,531.5 1068.8,531.5 1069.1,531.5 1069.3,531.5 1069.6,531.5 1069.8,531.5 1070.1,531.5 1070.3,531.5 1070.6,531.6 1070.9,531.6 1071.1,531.6 1071.4,531.6 1071.6,531.6 1071.9,531.6 1072.1,531.6 1072.4,531.7 1072.6,531.7 1072.9,531.7 1073.1,531.7 1073.4,531.7 1073.6,531.7 1073.9,531.7 1074.1,531.8 1074.4,531.8 1074.6,531.8 1074.9,531.8 1075.1,531.8 1075.4,531.8 1075.6,531.8 1075.9,531.8 1076.1,531.8 1076.4,531.8 1076.7,531.8 1076.9,531.8 1077.2,531.8 1077.4,531.8 1077.7,531.8 1077.9,531.8 1078.2,531.8 1078.4,531.8 1078.7,531.8 1078.9,531.8 1079.2,531.8 1079.4,531.8 1079.7,531.8 1079.9,531.8 1080.2,531.8 1080.4,531.8 1080.7,531.8 1080.9,531.8 1081.2,531.8 1081.4,531.8 1081.7,531.8 1082.0,531.8 1082.2,531.8 1082.5,531.8 1082.7,531.8 1083.0,531.8 1083.2,531.8 1083.5,531.8 1083.7,531.8 1084.0,531.8 1084.2,531.8 1084.5,531.8 1084.7,531.8 1085.0,531.8 1085.2,531.8 1085.5,531.8 1085.7,531.8 1086.0,531.8 1086.2,531.8 1086.5,531.8 1086.7,531.8 1087.0,531.8 1087.2,531.8 1087.5,531.8 1087.8,531.8 1088.0,531.8 1088.3,531.8 1088.5,531.8 1088.8,531.8 1089.0,531.8 1089.3,531.8 1089.5,531.8 1089.8,531.8 1090.0,531.8 1090.3,531.8 1090.5,531.8 1090.8,531.8 1091.0,531.8 1091.3,531.8 1091.5,531.8 1091.8,531.8 1092.0,531.8 1092.3,531.8 1092.5,531.8 1092.8,531.8 1093.1,531.8 1093.3,531.8 1093.6,531.8 1093.8,531.8 1094.1,531.8 1094.3,531.8 1094.6,531.8 1094.8,531.8 1095.1,531.8 1095.3,531.8 1095.6,199.5 1095.8,120.2 1096.1,340.6 1096.3,281.5 1096.6,173.8 1096.8,216.2 1097.1,247.4 1097.3,138.3 1097.6,183.6 1097.8,267.1 1098.1,234.5 1098.4,167.6 1098.6,125.8 1098.9,287.4 1099.1,194.0 1099.4,222.0 1099.6,283.6 1099.9,212.4 1100.1,281.4 1100.4,228.9 1100.6,133.1 1100.9,182.1 1101.1,170.2 1101.4,178.3 1101.6,189.2 1101.9,161.7 1102.1,260.1 1102.4,314.4 1102.6,166.9 1102.9,237.2 1103.1,224.2 1103.4,151.1 1103.6,136.5 1103.9,231.6 1104.2,241.0 1104.4,178.7 1104.7,192.6 1104.9,234.5 1105.2,178.1 1105.4,179.9 1105.7,289.9 1105.9,103.7 1106.2,144.1 1106.4,168.2 1106.7,158.9 1106.9,103.5 1107.2,155.6 1107.4,236.4 1107.7,190.1 1107.9,201.1 1108.2,229.7 1108.4,192.8 1108.7,193.2 1108.9,206.9 1109.2,226.0 1109.5,167.5 1109.7,281.1 1110.0,167.7 1110.2,317.1 1110.5,192.1 1110.7,292.8 1111.0,129.5 1111.2,283.1 1111.5,242.8 1111.7,175.6 1112.0,231.3 1112.2,222.5 1112.5,290.7 1112.7,223.7 1113.0,194.8 1113.2,174.0 1113.5,217.1 1113.7,194.5 1114.0,184.7 1114.2,234.3 1114.5,237.7 1114.8,116.8 1115.0,242.2 1115.3,324.6 1115.5,201.1 1115.8,138.5 1116.0,232.7 1116.3,181.1 1116.5,189.4 1116.8,214.3 1117.0,190.3 1117.3,238.5 1117.5,207.8 1117.8,324.6 1118.0,170.2 1118.3,208.2 1118.5,273.1 1118.8,220.8 1119.0,208.6 1119.3,244.5 1119.5,144.7 1119.8,186.1 1120.0,166.5 1120.3,238.3 1120.6,222.0 1120.8,159.1 1121.1,275.6 1121.3,104.2 1121.6,200.2 1121.8,226.5 1122.1,200.1 1122.3,254.1 1122.6,194.1 1122.8,262.6 1123.1,266.2 1123.3,141.6 1123.6,343.6 1123.8,289.0 1124.1,160.6 1124.3,238.7 1124.6,310.3 1124.8,206.7 1125.1,162.7 1125.3,188.4 1125.6,127.2 1125.9,209.8 1126.1,177.3 1126.4,250.0 1126.6,196.8 1126.9,135.6 1127.1,181.6 1127.4,196.8 1127.6,286.9 1127.9,221.0 1128.1,267.0 1128.4,169.3 1128.6,237.2 1128.9,187.9 1129.1,249.7 1129.4,119.6 1129.6,260.1 1129.9,197.9 1130.1,306.9 1130.4,194.5 1130.6,243.2 1130.9,176.5 1131.1,159.6 1131.4,165.0 1131.7,286.9 1131.9,194.4 1132.2,289.3 1132.4,118.9 1132.7,200.9 1132.9,224.8 1133.2,173.9 1133.4,182.2 1133.7,260.9 1133.9,131.1 1134.2,215.0 1134.4,283.7 1134.7,141.1 1134.9,135.1 1135.2,147.6 1135.4,179.3 1135.7,244.2 1135.9,161.8 1136.2,288.5 1136.4,167.3 1136.7,131.9 1137.0,238.9 1137.2,158.1 1137.5,161.8 1137.7,279.5 1138.0,281.7 1138.2,236.4 1138.5,200.3 1138.7,183.5 1139.0,214.1 1139.2,206.8 1139.5,209.0 1139.7,291.9 1140.0,177.5 1140.2,181.5 1140.5,206.3 1140.7,192.2 1141.0,224.2 1141.2,167.9 1141.5,226.6 1141.7,129.7 1142.0,204.9 1142.3,191.4 1142.5,238.2 1142.8,219.4 1143.0,196.4 1143.3,203.0 1143.5,231.9 1143.8,259.6 1144.0,202.0 1144.3,196.8 1144.5,179.0 1144.8,147.4 1145.0,217.9 1145.3,287.4 1145.5,210.3 1145.8,285.1 1146.0,267.2 1146.3,157.2 1146.5,178.1 1146.8,232.9 1147.0,232.5 1147.3,207.8 1147.5,283.8 1147.8,182.0 1148.1,219.6 1148.3,120.4 1148.6,253.4 1148.8,158.3 1149.1,234.6 1149.3,157.5 1149.6,248.5 1149.8,170.4 1150.1,223.7 1150.3,241.1 1150.6,210.5 1150.8,182.1 1151.1,185.3 1151.3,78.3 1151.6,166.4 1151.8,297.3 1152.1,282.4 1152.3,287.4 1152.6,221.1 1152.8,175.4 1153.1,270.4 1153.4,260.8 1153.6,197.1 1153.9,216.7 1154.1,131.8 1154.4,189.0 1154.6,179.5 1154.9,124.2 1155.1,226.4 1155.4,203.7 1155.6,249.3 1155.9,191.9 1156.1,109.6 1156.4,141.5 1156.6,205.3 1156.9,235.9 1157.1,238.4 1157.4,273.9 1157.6,198.1 1157.9,141.8 1158.1,293.2 1158.4,290.2 1158.7,139.8 1158.9,281.5 1159.2,188.5 1159.4,265.5 1159.7,167.9 1159.9,167.9 1160.2,195.8 1160.4,165.9 1160.7,201.1 1160.9,177.8 1161.2,120.4 1161.4,153.4 1161.7,233.3 1161.9,239.9 1162.2,214.2 1162.4,213.7 1162.7,200.0 1162.9,230.8 1163.2,296.7 1163.4,201.5 1163.7,186.8 1163.9,202.9 1164.2,175.2 1164.5,261.3 1164.7,115.1 1165.0,187.4 1165.2,182.6 1165.5,175.3 1165.7,153.8 1166.0,169.5 1166.2,192.2 1166.5,211.3 1166.7,281.9 1167.0,193.2 1167.2,217.2 1167.5,217.2 1167.7,108.6 1168.0,285.2 1168.2,298.1 1168.5,147.6 1168.7,159.1 1169.0,146.3 1169.2,265.3 1169.5,246.6 1169.8,174.6 1170.0,216.2 1170.3,124.7 1170.5,192.3 1170.8,193.8 1171.0,182.6 1171.3,215.0 1171.5,197.2 1171.8,233.3 1172.0,204.3 1172.3,224.6 1172.5,190.9 1172.8,274.1 1173.0,278.7 1173.3,181.5 1173.5,192.1 1173.8,246.4 1174.0,212.8 1174.3,251.3 1174.5,96.0 1174.8,280.5 1175.1,124.3 1175.3,239.9 1175.6,183.1 1175.8,214.3 1176.1,219.7 1176.3,159.6 1176.6,165.1 1176.8,215.5 1177.1,243.7 1177.3,320.5 1177.6,138.3 1177.8,195.8 1178.1,215.8 1178.3,188.9 1178.6,198.5 1178.8,147.7 1179.1,246.2 1179.3,201.2 1179.6,237.9 1179.8,142.6 1180.1,120.0 1180.3,206.3 1180.6,177.6 1180.9,138.1 1181.1,215.8 1181.4,244.7 1181.6,154.7 1181.9,179.0 1182.1,211.6 1182.4,135.5 1182.6,191.3 1182.9,100.1 1183.1,186.3 1183.4,204.8 1183.6,116.4 1183.9,202.8 1184.1,211.5 1184.4,182.2 1184.6,190.9 1184.9,273.0 1185.1,196.6 1185.4,87.9 1185.6,138.0 1185.9,108.4 1186.2,255.1 1186.4,246.1 1186.7,330.0 1186.9,232.0 1187.2,233.5 1187.4,199.6 1187.7,152.4 1187.9,266.3 1188.2,280.0 1188.4,284.7 1188.7,151.6 1188.9,141.5 1189.2,279.9 1189.4,281.4 1189.7,196.0 1189.9,152.2 1190.2,155.7 1190.4,193.1 1190.7,170.9 1190.9,187.0 1191.2,227.2 1191.4,115.0 1191.7,202.0 1192.0,254.6 1192.2,223.3 1192.5,280.0 1192.7,201.2 1193.0,151.9 1193.2,264.0 1193.5,93.3 1193.7,111.9 1194.0,184.7 1194.2,257.4 1194.5,240.8 1194.7,217.2 1195.0,265.0 1195.2,315.1 1195.5,213.8 1195.7,210.1 1196.0,174.3 1196.2,260.0 1196.5,116.5 1196.7,153.5 1197.0,93.3 1197.3,231.6 1197.5,122.6 1197.8,217.5 1198.0,119.1 1198.3,153.0 1198.5,242.8 1198.8,222.6 1199.0,116.6 1199.3,156.2 1199.5,209.0 1199.8,192.6 1200.0,192.8 1200.3,237.1 1200.5,211.0 1200.8,232.0 1201.0,221.4 1201.3,180.6 1201.5,245.6 1201.8,168.7 1202.0,196.9 1202.3,167.1 1202.6,161.3 1202.8,145.0 1203.1,309.6 1203.3,169.6 1203.6,210.1 1203.8,175.9 1204.1,243.0 1204.3,91.9 1204.6,167.7 1204.8,204.3 1205.1,181.5 1205.3,251.2 1205.6,139.4 1205.8,228.2 1206.1,304.9 1206.3,202.9 1206.6,159.3 1206.8,219.4 1207.1,247.8 1207.3,285.6 1207.6,215.9 1207.8,259.7 1208.1,177.5 1208.4,136.0 1208.6,290.6 1208.9,265.6 1209.1,187.8 1209.4,145.5 1209.6,187.9 1209.9,187.1 1210.1,178.8 1210.4,175.6 1210.6,126.8 1210.9,173.9 1211.1,262.7 1211.4,223.5 1211.6,192.3 1211.9,239.0 1212.1,213.8 1212.4,226.0 1212.6,234.0 1212.9,170.2 1213.1,219.7 1213.4,313.7 1213.7,234.7 1213.9,200.2 1214.2,111.6 1214.4,190.1 1214.7,134.0 1214.9,179.3 1215.2,289.5 1215.4,184.6 1215.7,241.0 1215.9,269.9 1216.2,252.8 1216.4,120.0 1216.7,280.7 1216.9,230.4 1217.2,148.8 1217.4,171.5 1217.7,282.8 1217.9,207.1 1218.2,225.6 1218.4,210.9 1218.7,167.5 1219.0,228.4 1219.2,216.7 1219.5,135.0 1219.7,284.9 1220.0,219.1 1220.2,180.5 1220.5,263.4 1220.7,288.5 1221.0,267.7 1221.2,194.9 1221.5,230.6 1221.7,165.9 1222.0,155.2 1222.2,199.9 1222.5,219.5 1222.7,190.1 1223.0,199.4 1223.2,261.8 1223.5,152.9 1223.7,191.7 1224.0,165.9 1224.2,270.8 1224.5,161.8 1224.8,111.6 1225.0,173.8 1225.3,276.3 1225.5,200.4 1225.8,204.8 1226.0,192.1 1226.3,281.7 1226.5,179.4 1226.8,223.5 1227.0,191.6 1227.3,233.8 1227.5,197.6 1227.8,156.4 1228.0,224.7 1228.3,171.5 1228.5,98.1 1228.8,219.3 1229.0,213.1 1229.3,144.9 1229.5,237.5 1229.8,146.2 1230.1,277.5 1230.3,209.5 1230.6,160.3 1230.8,298.1 1231.1,249.3 1231.3,262.6 1231.6,161.9 1231.8,265.0 1232.1,175.6 1232.3,226.3 1232.6,202.8 1232.8,109.2 1233.1,131.0 1233.3,163.7 1233.6,272.3 1233.8,187.6 1234.1,199.9 1234.3,207.0 1234.6,140.8 1234.8,283.2 1235.1,187.7 1235.3,196.6 1235.6,237.0 1235.9,122.9 1236.1,265.6 1236.4,201.2 1236.6,198.8 1236.9,290.6 1237.1,275.9 1237.4,247.2 1237.6,166.2 1237.9,158.9 1238.1,175.1 1238.4,191.4 1238.6,290.7 1238.9,303.5 1239.1,226.2 1239.4,148.5 1239.6,140.5 1239.9,110.1 1240.1,169.8 1240.4,165.0 1240.6,251.2 1240.9,198.9 1241.2,264.0 1241.4,161.2 1241.7,261.5 1241.9,212.5 1242.2,240.5 1242.4,224.3 1242.7,181.6 1242.9,228.7 1243.2,192.5 1243.4,249.7 1243.7,305.6 1243.9,232.5 1244.2,156.0 1244.4,111.3 1244.7,294.6 1244.9,249.1 1245.2,212.3 1245.4,148.7 1245.7,225.2 1245.9,185.2 1246.2,236.5 1246.5,176.8 1246.7,263.1 1247.0,164.1 1247.2,303.3 1247.5,286.1 1247.7,118.6 1248.0,194.9 1248.2,244.3 1248.5,110.5 1248.7,154.2 1249.0,150.6 1249.2,222.5 1249.5,174.1 1249.7,179.4 1250.0,282.6 1250.2,175.4 1250.5,211.5 1250.7,143.3 1251.0,142.3 1251.2,232.8 1251.5,231.0 1251.7,194.1 1252.0,172.6 1252.3,222.1 1252.5,208.3 1252.8,174.6 1253.0,183.4 1253.3,149.0 1253.5,191.9 1253.8,244.3 1254.0,284.4 1254.3,372.9 1254.5,218.6 1254.8,219.3 1255.0,216.6 1255.3,281.4 1255.5,221.3 1255.8,297.6 1256.0,221.9 1256.3,244.8 1256.5,117.5 1256.8,182.3 1257.0,213.1 1257.3,195.6 1257.6,169.1 1257.8,238.4 1258.1,213.9 1258.3,219.7 1258.6,107.1 1258.8,281.1 1259.1,287.7 1259.3,166.0 1259.6,105.9 1259.8,248.2 1260.1,95.4 1260.3,206.2 1260.6,156.5 1260.8,229.6 1261.1,215.9 1261.3,265.7 1261.6,254.7 1261.8,290.6 1262.1,149.7 1262.3,260.6 1262.6,185.9 1262.9,81.7 1263.1,233.7 1263.4,201.1 1263.6,207.8 1263.9,226.6 1264.1,201.0 1264.4,201.0 1264.6,252.7 1264.9,270.2 1265.1,243.2 1265.4,197.7 1265.6,138.5 1265.9,134.4 1266.1,188.7 1266.4,159.0 1266.6,197.7 1266.9,151.6 1267.1,197.5 1267.4,185.0 1267.6,216.9 1267.9,203.8 1268.1,114.3 1268.4,264.4 1268.7,203.4 1268.9,231.3 1269.2,158.4 1269.4,329.7 1269.7,218.2 1269.9,300.9 1270.2,174.6 1270.4,174.6 1270.7,283.6 1270.9,215.0 1271.2,206.8 1271.4,293.7 1271.7,171.8 1271.9,182.9 1272.2,192.4 1272.4,256.0 1272.7,237.3 1272.9,233.6 1273.2,181.1 1273.4,251.2 1273.7,134.7 1274.0,185.9 1274.2,291.6 1274.5,124.3 1274.7,196.3 1275.0,229.8 1275.2,313.7 1275.5,286.1 1275.7,194.9 1276.0,296.2 1276.2,254.1 1276.5,139.8 1276.7,144.2 1277.0,220.1 1277.2,250.6 1277.5,159.8 1277.7,206.4 1278.0,194.0 1278.2,336.2 1278.5,257.8 1278.7,166.5 1279.0,290.8 1279.2,134.8 1279.5,282.1 1279.8,233.9 1280.0,235.8 1280.3,169.6 1280.5,168.8 1280.8,187.1 1281.0,178.5 1281.3,182.0 1281.5,207.7 1281.8,287.7 1282.0,294.0 1282.3,294.0 1282.5,206.6 1282.8,215.1 1283.0,211.0 1283.3,193.7 1283.5,215.6 1283.8,253.5 1284.0,281.2 1284.3,287.6 1284.5,146.7 1284.8,161.3 1285.1,276.5 1285.3,217.5 1285.6,183.6 1285.8,340.2 1286.1,233.2 1286.3,196.3 1286.6,149.5 1286.8,285.1 1287.1,239.5 1287.3,206.5 1287.6,238.9 1287.8,111.3 1288.1,163.4 1288.3,195.3 1288.6,251.6 1288.8,163.4 1289.1,394.0 1289.3,229.3 1289.6,225.4 1289.8,462.0 1290.1,208.5 1290.4,509.6 1290.6,157.2 1290.9,529.4 1291.1,165.6 1291.4,516.4 1291.6,227.2 1291.9,523.2 1292.1,183.4 1292.4,519.8 1292.6,181.0 1292.9,523.2 1293.1,171.2 1293.4,524.6 1293.6,229.5 1293.9,462.0 1294.1,124.3 1294.4,198.0 1294.6,236.7 1294.9,188.8 1295.1,269.4 1295.4,194.1 1295.6,304.2 1295.9,159.5 1296.2,200.1 1296.4,155.1 1296.7,109.2 1296.9,215.4 1297.2,244.7 1297.4,183.2 1297.7,209.2 1297.9,198.3 1298.2,233.7 1298.4,178.7 1298.7,201.8 1298.9,292.0 1299.2,216.4 1299.4,189.3 1299.7,149.2 1299.9,232.6 1300.2,243.2 1300.4,150.6 1300.7,234.1 1300.9,200.2 1301.2,336.2 1301.5,170.2 1301.7,204.8 1302.0,261.7 1302.2,157.3 1302.5,225.8 1302.7,229.9 1303.0,112.8 1303.2,163.6 1303.5,258.4 1303.7,228.1 1304.0,216.9 1304.2,240.7 1304.5,288.1 1304.7,167.3 1305.0,168.5 1305.2,193.7 1305.5,224.3 1305.7,195.2 1306.0,175.1 1306.2,257.3 1306.5,221.0 1306.8,231.8 1307.0,172.4 1307.3,192.9 1307.5,273.7 1307.8,234.5 1308.0,121.8 1308.3,252.7 1308.5,99.4 1308.8,235.1 1309.0,146.4 1309.3,208.4 1309.5,226.1 1309.8,265.8 1310.0,217.0 1310.3,166.3 1310.5,173.7 1310.8,275.3 1311.0,131.8 1311.3,217.1 1311.5,258.1 1311.8,199.5 1312.0,279.0 1312.3,232.9 1312.6,235.4 1312.8,209.8 1313.1,108.9 1313.3,284.8 1313.6,180.9 1313.8,230.2 1314.1,149.2 1314.3,180.4 1314.6,176.6 1314.8,197.1 1315.1,144.5 1315.3,221.1 1315.6,254.4 1315.8,189.4 1316.1,300.9 1316.3,223.1 1316.6,195.6 1316.8,225.3 1317.1,146.5 1317.3,319.2 1317.6,200.4 1317.9,224.6 1318.1,154.1 1318.4,237.8 1318.6,225.4 1318.9,170.6 1319.1,177.7 1319.4,112.8 1319.6,216.0 1319.9,287.5 1320.1,174.8 1320.4,146.6 1320.6,213.6 1320.9,132.5 1321.1,122.0 1321.4,237.2 1321.6,228.5 1321.9,271.1 1322.1,180.3 1322.4,172.1 1322.6,177.4 1322.9,269.9 1323.2,241.9 1323.4,280.4 1323.7,348.4 1323.9,277.1 1324.2,282.8 1324.4,214.6 1324.7,186.1 1324.9,176.6 1325.2,207.0 1325.4,237.6 1325.7,206.5 1325.9,179.3 1326.2,220.0 1326.4,203.6 1326.7,220.5 1326.9,230.7 1327.2,204.5 1327.4,262.6 1327.7,156.7 1327.9,282.5 1328.2,184.5 1328.4,278.2 1328.7,135.2 1329.0,165.3 1329.2,102.8 1329.5,227.3 1329.7,263.4 1330.0,208.9 1330.2,186.9 1330.5,106.8 1330.7,278.5 1331.0,148.0 1331.2,233.5 1331.5,193.3 1331.7,165.0 1332.0,180.7 1332.2,186.4 1332.5,215.5 1332.7,206.6 1333.0,199.1 1333.2,150.0 1333.5,281.0 1333.7,229.3 1334.0,270.9 1334.3,253.0 1334.5,243.7 1334.8,154.7 1335.0,111.7 1335.3,142.7 1335.5,266.9 1335.8,202.7 1336.0,263.8 1336.3,185.4 1336.5,146.6 1336.8,178.7 1337.0,165.4 1337.3,213.1 1337.5,288.9 1337.8,289.1 1338.0,210.9 1338.3,179.3 1338.5,146.7 1338.8,222.6 1339.0,202.7 1339.3,194.3 1339.5,156.4 1339.8,209.5 1340.1,261.2 1340.3,155.5 1340.6,187.0 1340.8,188.3 1341.1,272.4 1341.3,206.6 1341.6,284.9 1341.8,289.5 1342.1,217.4 1342.3,311.0 1342.6,179.7 1342.8,138.7 1343.1,207.9 1343.3,81.7 1343.6,233.8 1343.8,170.5 1344.1,272.1 1344.3,200.3 1344.6,221.1 1344.8,216.0 1345.1,178.7 1345.4,287.6 1345.6,200.8 1345.9,244.3 1346.1,200.8 1346.4,187.9 1346.6,223.6 1346.9,223.7 1347.1,264.8 1347.4,180.6 1347.6,237.7 1347.9,185.5 1348.1,280.3 1348.4,142.3 1348.6,256.5 1348.9,152.1 1349.1,227.2 1349.4,180.7 1349.6,213.0 1349.9,174.5 1350.1,206.0 1350.4,146.9 1350.7,174.8 1350.9,174.4 1351.2,128.2 1351.4,317.8 1351.7,145.4 1351.9,202.9 1352.2,281.1 1352.4,183.9 1352.7,215.8 1352.9,127.3 1353.2,229.2 1353.4,203.9 1353.7,195.3 1353.9,287.8 1354.2,182.5 1354.4,254.7 1354.7,140.4 1354.9,128.4 1355.2,206.6 1355.4,282.8 1355.7,197.7 1355.9,198.0 1356.2,172.6 1356.5,220.1 1356.7,267.1 1357.0,212.9 1357.2,250.4 1357.5,123.4 1357.7,239.3 1358.0,236.7 1358.2,208.4 1358.5,270.2 1358.7,227.1 1359.0,212.6 1359.2,229.1 1359.5,218.0 1359.7,332.1 1360.0,186.0 1360.2,276.3 1360.5,226.3 1360.7,171.4 1361.0,236.6 1361.2,202.4 1361.5,207.6 1361.8,181.5 1362.0,214.6 1362.3,212.8 1362.5,246.4 1362.8,189.4 1363.0,287.9 1363.3,125.2 1363.5,207.2 1363.8,216.7 1364.0,169.4 1364.3,210.2 1364.5,202.1 1364.8,208.7 1365.0,240.1 1365.3,250.1 1365.5,238.9 1365.8,153.4 1366.0,101.5 1366.3,225.2 1366.5,227.2 1366.8,173.6 1367.1,113.7 1367.3,250.2 1367.6,180.6 1367.8,200.7 1368.1,220.4 1368.3,182.6 1368.6,272.0 1368.8,167.4 1369.1,195.9 1369.3,254.8 1369.6,131.8 1369.8,166.5 1370.1,152.0 1370.3,280.7 1370.6,218.9 1370.8,230.6 1371.1,177.0 1371.3,143.0 1371.6,287.8 1371.8,205.3 1372.1,212.1 1372.3,159.6 1372.6,208.1 1372.9,272.0 1373.1,215.3 1373.4,257.2 1373.6,88.5 1373.9,204.3 1374.1,228.6 1374.4,193.2 1374.6,281.6 1374.9,109.8 1375.1,280.4 1375.4,172.8 1375.6,273.3 1375.9,291.7 1376.1,246.5 1376.4,217.1 1376.6,110.8 1376.9,145.3 1377.1,230.7 1377.4,149.9 1377.6,149.2 1377.9,205.5 1378.2,149.5 1378.4,190.8 1378.7,236.8 1378.9,265.9 1379.2,212.0 1379.4,159.7 1379.7,277.2 1379.9,283.1 1380.2,180.6 1380.4,300.5 1380.7,121.3 1380.9,226.7 1381.2,172.1 1381.4,119.6 1381.7,280.6 1381.9,258.0 1382.2,110.7 1382.4,219.5 1382.7,308.3 1382.9,195.6 1383.2,157.0 1383.4,144.5 1383.7,201.1 1384.0,221.8 1384.2,207.9 1384.5,192.1 1384.7,145.2 1385.0,199.9 1385.2,121.4 1385.5,246.2 1385.7,181.4 1386.0,124.4 1386.2,146.2 1386.5,190.7 1386.7,247.5 1387.0,239.4 1387.2,213.5 1387.5,191.8 1387.7,217.8 1388.0,280.7 1388.2,240.6 1388.5,182.1 1388.7,167.3 1389.0,279.8 1389.3,223.2 1389.5,284.1 1389.8,232.5 1390.0,95.6 1390.3,203.3 1390.5,222.3 1390.8,233.7 1391.0,268.1 1391.3,287.0 1391.5,208.2 1391.8,219.1 1392.0,137.4 1392.3,283.5 1392.5,185.9 1392.8,309.6 1393.0,288.5 1393.3,175.6 1393.5,283.1 1393.8,181.9 1394.0,137.4 1394.3,206.4 1394.6,192.8 1394.8,238.6 1395.1,192.7 1395.3,153.5 1395.6,214.7 1395.8,212.7 1396.1,188.0 1396.3,167.9 1396.6,283.5 1396.8,203.4 1397.1,238.1 1397.3,99.4 1397.6,157.9 1397.8,191.7 1398.1,146.0 1398.3,254.3 1398.6,225.3 1398.8,254.2 1399.1,203.4 1399.3,201.7 1399.6,215.4 1399.8,268.2 1400.1,209.8 1400.4,226.6 1400.6,178.0 1400.9,218.8 1401.1,152.0 1401.4,195.4 1401.6,307.6 1401.9,214.3 1402.1,280.2 1402.4,161.0 1402.6,139.3 1402.9,207.4 1403.1,185.5 1403.4,280.5 1403.6,293.1 1403.9,232.1 1404.1,218.1 1404.4,281.6 1404.6,201.9 1404.9,191.6 1405.1,176.2 1405.4,133.9 1405.7,168.4 1405.9,223.2 1406.2,201.2 1406.4,178.1 1406.7,257.7 1406.9,144.2 1407.2,164.1 1407.4,216.7 1407.7,235.9 1407.9,92.4 1408.2,166.9 1408.4,162.3 1408.7,122.2 1408.9,160.3 1409.2,196.3 1409.4,173.2 1409.7,249.2 1409.9,172.7 1410.2,281.9 1410.4,186.3 1410.7,180.0 1411.0,282.2 1411.2,116.4 1411.5,264.0 1411.7,313.0 1412.0,230.6 1412.2,191.3 1412.5,236.6 1412.7,107.7 1413.0,157.7 1413.2,121.3 1413.5,169.2 1413.7,173.2 1414.0,198.6 1414.2,216.7 1414.5,177.2 1414.7,198.0 1415.0,212.5 1415.2,277.6 1415.5,219.7 1415.7,177.2 1416.0,227.3 1416.2,189.1 1416.5,212.0 1416.8,255.7 1417.0,247.6 1417.3,239.9 1417.5,218.8 1417.8,217.4 1418.0,153.0 1418.3,259.0 1418.5,289.6 1418.8,173.1 1419.0,226.5 1419.3,210.7 1419.5,315.4 1419.8,136.7 1420.0,177.6 1420.3,160.8 1420.5,199.5 1420.8,160.2 1421.0,233.6 1421.3,238.3 1421.5,226.8 1421.8,131.1 1422.1,132.2 1422.3,233.3 1422.6,150.6 1422.8,212.4 1423.1,154.7 1423.3,219.7 1423.6,160.1 1423.8,210.0 1424.1,218.2 1424.3,205.8 1424.6,295.3 1424.8,231.9 1425.1,276.3 1425.3,125.5 1425.6,223.1 1425.8,285.9 1426.1,293.1 1426.3,301.5 1426.6,233.3 1426.8,141.1 1427.1,283.0 1427.4,219.7 1427.6,286.2 1427.9,153.0 1428.1,187.5 1428.4,289.9 1428.6,141.3 1428.9,127.5 1429.1,156.3 1429.4,231.6 1429.6,273.4 1429.9,255.6 1430.1,284.9 1430.4,119.9 1430.6,213.4 1430.9,198.4 1431.1,195.2 1431.4,112.7 1431.6,230.8 1431.9,149.0 1432.1,190.2 1432.4,211.5 1432.6,330.4 1432.9,161.3 1433.2,239.2 1433.4,225.9 1433.7,193.8 1433.9,199.9 1434.2,151.6 1434.4,235.8 1434.7,196.6 1434.9,191.3 1435.2,203.1 1435.4,172.4 1435.7,216.2 1435.9,147.7 1436.2,237.6 1436.4,279.9 1436.7,206.2 1436.9,148.9 1437.2,228.5 1437.4,233.7 1437.7,220.5 1437.9,196.5 1438.2,212.5 1438.5,189.7 1438.7,284.3 1439.0,134.0 1439.2,176.9 1439.5,244.7 1439.7,139.9 1440.0,183.2 1440.2,135.2 1440.5,263.8 1440.7,126.4 1441.0,202.1 1441.2,289.7 1441.5,168.9 1441.7,218.4 1442.0,253.5 1442.2,214.4 1442.5,287.9 1442.7,176.9 1443.0,214.4 1443.2,217.0 1443.5,137.9 1443.7,202.6 1444.0,235.3 1444.3,249.6 1444.5,207.1 1444.8,154.3 1445.0,231.6 1445.3,255.1 1445.5,161.0 1445.8,201.5 1446.0,205.5 1446.3,111.9 1446.5,266.2 1446.8,194.9 1447.0,285.2 1447.3,218.4 1447.5,176.7 1447.8,151.5 1448.0,269.9 1448.3,288.5 1448.5,167.5 1448.8,210.1 1449.0,107.5 1449.3,204.3 1449.6,245.7 1449.8,75.9 1450.1,286.6 1450.3,131.1 1450.6,157.9 1450.8,223.1 1451.1,175.5 1451.3,179.1 1451.6,113.7 1451.8,233.2 1452.1,271.1 1452.3,289.3 1452.6,218.2 1452.8,282.0 1453.1,212.5 1453.3,185.1 1453.6,225.1 1453.8,102.1 1454.1,148.4 1454.3,213.7 1454.6,193.4 1454.9,159.7 1455.1,272.1 1455.4,293.3 1455.6,107.1 1455.9,211.8 1456.1,255.4 1456.4,216.3 1456.6,231.3 1456.9,267.3 1457.1,223.5 1457.4,205.3 1457.6,205.0 1457.9,179.1 1458.1,284.6 1458.4,280.8 1458.6,167.3 1458.9,101.5 1459.1,147.3 1459.4,190.1 1459.6,278.7 1459.9,179.2 1460.1,253.5 1460.4,192.2 1460.7,146.7 1460.9,296.0 1461.2,207.6 1461.4,171.6 1461.7,190.3 1461.9,167.3 1462.2,297.5 1462.4,222.6 1462.7,190.7 1462.9,182.3 1463.2,239.7 1463.4,165.7 1463.7,152.6 1463.9,201.1 1464.2,215.0 1464.4,221.1 1464.7,197.8 1464.9,149.0 1465.2,134.1 1465.4,226.4 1465.7,248.2 1466.0,241.5 1466.2,158.2 1466.5,193.9 1466.7,190.3 1467.0,181.8 1467.2,186.7 1467.5,210.1 1467.7,255.1 1468.0,233.3 1468.2,198.6 1468.5,185.9 1468.7,221.6 1469.0,223.8 1469.2,140.3 1469.5,226.2 1469.7,330.4 1470.0,219.2 1470.2,244.5 1470.5,281.1 1470.7,229.4 1471.0,242.7 1471.3,164.7 1471.5,261.8 1471.8,223.6 1472.0,173.7 1472.3,209.6 1472.5,181.2 1472.8,165.3 1473.0,283.3 1473.3,223.6 1473.5,249.9 1473.8,141.4 1474.0,209.8 1474.3,181.2 1474.5,125.1 1474.8,220.9 1475.0,200.9 1475.3,185.3 1475.5,216.8 1475.8,145.9 1476.0,166.3 1476.3,157.7 1476.5,202.1 1476.8,220.3 1477.1,220.9 1477.3,221.3 1477.6,282.9 1477.8,187.5 1478.1,166.6 1478.3,204.8 1478.6,227.4 1478.8,202.7 1479.1,193.9 1479.3,189.2 1479.6,120.9 1479.8,244.1 1480.1,187.5 1480.3,172.4 1480.6,200.8 1480.8,215.3 1481.1,253.6 1481.3,231.9 1481.6,171.7 1481.8,137.1 1482.1,234.8 1482.4,182.6 1482.6,180.4 1482.9,157.8 1483.1,193.1 1483.4,184.0 1483.6,163.1 1483.9,262.2 1484.1,202.3 1484.4,284.7 1484.6,287.9 1484.9,242.5 1485.1,281.2 1485.4,181.1 1485.6,158.6 1485.9,218.6 1486.1,210.9 1486.4,215.3 1486.6,216.6 1486.9,198.3 1487.1,188.4 1487.4,225.8 1487.6,240.8 1487.9,228.5 1488.2,167.6 1488.4,223.9 1488.7,137.8 1488.9,215.7 1489.2,141.6 1489.4,263.9 1489.7,236.5 1489.9,182.6 1490.2,182.1 1490.4,211.8 1490.7,113.0 1490.9,201.3 1491.2,191.3 1491.4,230.8 1491.7,128.5 1491.9,165.3 1492.2,185.7 1492.4,282.6 1492.7,342.3 1492.9,226.1 1493.2,186.6 1493.5,162.7 1493.7,239.0 1494.0,194.7 1494.2,164.4 1494.5,197.2 1494.7,219.8 1495.0,255.4 1495.2,235.3 1495.5,268.4 1495.7,159.4 1496.0,199.9 1496.2,265.1 1496.5,205.0 1496.7,269.7 1497.0,308.0 1497.2,149.4 1497.5,151.1 1497.7,280.0 1498.0,237.6 1498.2,195.3 1498.5,222.3 1498.8,243.9 1499.0,228.3 1499.3,215.8 1499.5,230.1 1499.8,195.2 1500.0,215.4 1500.3,239.6 1500.5,203.7 1500.8,282.9 1501.0,138.8 1501.3,284.1 1501.5,208.7 1501.8,189.3 1502.0,185.9 1502.3,193.0 1502.5,147.2 1502.8,101.5 1503.0,208.1 1503.3,198.2 1503.5,227.6 1503.8,232.0 1504.0,146.2 1504.3,237.5 1504.6,226.8 1504.8,217.5 1505.1,214.7 1505.3,197.6 1505.6,214.4 1505.8,188.0 1506.1,198.8 1506.3,183.1 1506.6,368.8 1506.8,243.5 1507.1,129.8 1507.3,225.5 1507.6,174.7 1507.8,197.7 1508.1,218.6 1508.3,287.5 1508.6,131.7 1508.8,239.6 1509.1,241.0 1509.3,156.8 1509.6,201.7 1509.9,118.6 1510.1,128.6 1510.4,172.9 1510.6,193.7 1510.9,170.5 1511.1,271.3 1511.4,197.4 1511.6,198.5 1511.9,226.6 1512.1,193.6 1512.4,279.8 1512.6,323.9 1512.9,146.7 1513.1,269.9 1513.4,198.6 1513.6,135.0 1513.9,186.2 1514.1,253.7 1514.4,251.1 1514.6,166.5 1514.9,122.1 1515.2,257.1 1515.4,203.5 1515.7,240.5 1515.9,218.2 1516.2,191.3 1516.4,207.2 1516.7,236.4 1516.9,112.8 1517.2,212.5 1517.4,303.9 1517.7,155.0 1517.9,204.7 1518.2,214.5 1518.4,162.3 1518.7,253.9 1518.9,171.4 1519.2,158.7 1519.4,175.3 1519.7,213.4 1519.9,205.7 1520.2,283.7 1520.4,211.2 1520.7,192.2 1521.0,166.1 1521.2,198.9 1521.5,222.9 1521.7,243.2 1522.0,207.4 1522.2,199.3 1522.5,150.7 1522.7,204.9 1523.0,326.0 1523.2,210.2 1523.5,227.2 1523.7,216.0 1524.0,291.1 1524.2,281.7 1524.5,263.6 1524.7,184.4 1525.0,208.9 1525.2,198.8 1525.5,152.9 1525.7,254.3 1526.0,153.8 1526.3,188.1 1526.5,237.6 1526.8,138.3 1527.0,277.7 1527.3,259.4 1527.5,214.8 1527.8,187.2 1528.0,214.0 1528.3,290.0 1528.5,218.9 1528.8,209.2 1529.0,108.0 1529.3,143.5 1529.5,199.9 1529.8,257.2 1530.0,190.0 1530.3,261.8 1530.5,196.3 1530.8,188.9 1531.0,356.6 1531.3,194.2 1531.5,220.3 1531.8,231.2 1532.1,136.4 1532.3,179.3 1532.6,219.3 1532.8,240.0 1533.1,197.5 1533.3,180.0 1533.6,167.2 1533.8,139.2 1534.1,184.7 1534.3,259.0 1534.6,114.2 1534.8,153.3 1535.1,168.1 1535.3,145.4 1535.6,280.1 1535.8,222.3 1536.1,228.5 1536.3,152.0 1536.6,86.5 1536.8,220.0 1537.1,137.3 1537.4,176.4 1537.6,222.9 1537.9,121.0 1538.1,271.7 1538.4,185.2 1538.6,215.8 1538.9,182.6 1539.1,218.0 1539.4,243.2 1539.6,196.0 1539.9,271.0 1540.1,181.8 1540.4,220.0 1540.6,164.2 1540.9,225.8 1541.1,235.9 1541.4,187.7 1541.6,300.1 1541.9,289.0 1542.1,200.3 1542.4,177.5 1542.7,277.4 1542.9,245.3 1543.2,176.8 1543.4,242.8 1543.7,234.4 1543.9,128.5 1544.2,248.4 1544.4,244.5 1544.7,292.7 1544.9,257.7 1545.2,265.9 1545.4,128.7 1545.7,151.1 1545.9,268.0 1546.2,117.4 1546.4,103.5 1546.7,213.9 1546.9,169.4 1547.2,188.7 1547.4,240.1 1547.7,284.3 1547.9,246.7 1548.2,206.0 1548.5,221.8 1548.7,239.0 1549.0,162.0 1549.2,256.0 1549.5,165.8 1549.7,227.5 1550.0,200.9 1550.2,259.4 1550.5,206.2 1550.7,241.0 1551.0,284.1 1551.2,206.7 1551.5,208.2 1551.7,168.6 1552.0,100.1 1552.2,253.0 1552.5,233.4 1552.7,295.3 1553.0,304.9 1553.2,147.6 1553.5,137.8 1553.8,171.6 1554.0,192.3 1554.3,179.5 1554.5,184.0 1554.8,284.0 1555.0,245.2 1555.3,152.7 1555.5,152.9 1555.8,195.1 1556.0,219.9 1556.3,223.2 1556.5,230.4 1556.8,314.4 1557.0,286.9 1557.3,199.3 1557.5,226.3 1557.8,215.6 1558.0,128.8 1558.3,179.3 1558.5,237.6 1558.8,179.9 1559.1,280.5 1559.3,158.6 1559.6,194.1 1559.8,214.7 1560.1,180.3 1560.3,140.4 1560.6,226.9 1560.8,251.7 1561.1,113.0 1561.3,205.3 1561.6,138.7 1561.8,236.4 1562.1,188.9 1562.3,234.9 1562.6,177.4 1562.8,218.5 1563.1,236.2 1563.3,136.1 1563.6,190.7 1563.8,288.6 1564.1,216.6 1564.3,247.5 1564.6,265.9 1564.9,232.4 1565.1,227.6 1565.4,57.9 1565.6,241.9 1565.9,286.1 1566.1,230.3 1566.4,166.4 1566.6,275.0 1566.9,178.1 1567.1,296.7 1567.4,226.3 1567.6,192.1 1567.9,240.0 1568.1,224.2 1568.4,254.1 1568.6,185.1 1568.9,144.2 1569.1,236.8 1569.4,152.0 1569.6,290.3 1569.9,246.2 1570.2,253.7 1570.4,128.2 1570.7,232.9 1570.9,170.9 1571.2,289.0 1571.4,277.7 1571.7,180.5 1571.9,207.8 1572.2,299.4 1572.4,198.2 1572.7,169.4 1572.9,146.3 1573.2,188.1 1573.4,77.0 1573.7,215.7 1573.9,165.2 1574.2,243.3 1574.4,180.6 1574.7,227.9 1574.9,202.0 1575.2,171.8 1575.5,238.4 1575.7,104.3 1576.0,199.3 1576.2,190.6 1576.5,239.9 1576.7,203.4 1577.0,218.4 1577.2,98.1 1577.5,281.3 1577.7,193.2 1578.0,281.7 1578.2,298.1 1578.5,290.7 1578.7,220.3 1579.0,209.4 1579.2,178.6 1579.5,268.1 1579.7,179.3 1580.0,220.2 1580.2,98.1 1580.5,212.7 1580.7,161.3 1581.0,180.8 1581.3,165.7 1581.5,237.6 1581.8,219.2 1582.0,263.5 1582.3,231.4 1582.5,224.3 1582.8,227.4 1583.0,173.7 1583.3,186.8 1583.5,322.2 1583.8,200.4 1584.0,157.3 1584.3,201.0 1584.5,162.2 1584.8,183.3 1585.0,172.7 1585.3,209.3 1585.5,268.2 1585.8,280.0 1586.0,117.0 1586.3,188.5 1586.6,186.0 1586.8,213.8 1587.1,227.1 1587.3,104.1 1587.6,260.9 1587.8,209.1 1588.1,208.6 1588.3,261.5 1588.6,270.2 1588.8,238.3 1589.1,221.9 1589.3,228.4 1589.6,169.2 1589.8,264.5 1590.1,187.8 1590.3,139.3 1590.6,165.5 1590.8,262.0 1591.1,303.2 1591.3,167.7 1591.6,183.6 1591.8,232.9 1592.1,147.9 1592.4,224.7 1592.6,201.3 1592.9,255.8 1593.1,191.7 1593.4,225.8 1593.6,229.2 1593.9,157.0 1594.1,196.5 1594.4,280.8 1594.6,174.7 1594.9,168.1 1595.1,244.2 1595.4,224.1 1595.6,203.8 1595.9,217.6 1596.1,200.6 1596.4,176.6 1596.6,228.6 1596.9,113.1 1597.1,238.7 1597.4,230.8 1597.7,294.7 1597.9,109.7 1598.2,204.5 1598.4,214.8 1598.7,258.0 1598.9,154.1 1599.2,198.3 1599.4,244.8 1599.7,187.7 1599.9,143.8 1600.2,175.0 1600.4,111.7 1600.7,153.4 1600.9,186.1 1601.2,207.7 1601.4,181.2 1601.7,150.7"/>
<polyline class="di" points="1095.3,513.3 1095.6,114.2 1095.8,144.6 1096.1,190.4 1096.3,127.8 1096.6,130.2 1096.8,132.2 1097.1,140.7 1097.3,127.8 1097.6,175.6 1097.8,121.1 1098.1,131.1 1098.4,139.5 1098.6,147.6 1098.9,149.0 1099.1,168.7 1099.4,182.9 1099.6,143.1 1099.9,141.4 1100.1,142.8 1100.4,199.3 1100.6,143.3 1100.9,128.6 1101.1,147.4 1101.4,151.2 1101.6,148.4 1101.9,183.9 1102.1,143.1 1102.4,149.6 1102.6,197.1 1102.9,141.3 1103.1,60.2 1103.4,207.6 1103.6,152.2 1103.9,144.4 1104.2,143.6 1104.4,125.2 1104.7,141.2 1104.9,131.4 1105.2,136.2 1105.4,138.1 1105.7,143.6 1105.9,133.6 1106.2,135.0 1106.4,128.4 1106.7,135.5 1106.9,171.6 1107.2,135.2 1107.4,131.4 1107.7,122.4 1107.9,121.3 1108.2,127.0 1108.4,127.0 1108.7,106.1 1108.9,143.1 1109.2,150.9 1109.5,254.3 1109.7,108.7 1110.0,126.4 1110.2,153.8 1110.5,250.4 1110.7,140.9 1111.0,139.1 1111.2,161.6 1111.5,154.5 1111.7,136.3 1112.0,216.1 1112.2,129.8 1112.5,113.7 1112.7,145.0 1113.0,148.8 1113.2,155.0 1113.5,157.0 1113.7,145.6 1114.0,132.8 1114.2,121.6 1114.5,162.6 1114.8,131.9 1115.0,120.8 1115.3,116.0 1115.5,108.6 1115.8,107.3 1116.0,119.2 1116.3,185.6 1116.5,112.8 1116.8,121.5 1117.0,109.7 1117.3,119.6 1117.5,125.6 1117.8,237.7 1118.0,110.4 1118.3,129.6 1118.5,103.1 1118.8,118.7 1119.0,195.5 1119.3,111.5 1119.5,125.8 1119.8,149.2 1120.0,122.6 1120.3,198.4 1120.6,133.7 1120.8,96.4 1121.1,112.4 1121.3,204.5 1121.6,138.0 1121.8,132.0 1122.1,137.2 1122.3,142.9 1122.6,137.0 1122.8,147.3 1123.1,145.5 1123.3,147.0 1123.6,155.6 1123.8,140.5 1124.1,190.4 1124.3,187.7 1124.6,143.7 1124.8,191.9 1125.1,152.5 1125.3,165.4 1125.6,145.5 1125.9,159.2 1126.1,196.6 1126.4,157.6 1126.6,151.2 1126.9,134.5 1127.1,158.2 1127.4,160.6 1127.6,180.3 1127.9,166.6 1128.1,160.1 1128.4,164.3 1128.6,167.1 1128.9,190.9 1129.1,172.8 1129.4,160.2 1129.6,166.7 1129.9,167.8 1130.1,161.8 1130.4,158.5 1130.6,140.7 1130.9,153.9 1131.1,139.9 1131.4,125.2 1131.7,158.9 1131.9,147.3 1132.2,139.6 1132.4,145.4 1132.7,145.4 1132.9,146.3 1133.2,206.6 1133.4,138.0 1133.7,144.9 1133.9,141.4 1134.2,137.8 1134.4,142.6 1134.7,138.7 1134.9,140.5 1135.2,142.8 1135.4,140.0 1135.7,131.8 1135.9,138.5 1136.2,244.8 1136.4,129.6 1136.7,129.2 1137.0,187.2 1137.2,135.8 1137.5,251.5 1137.7,139.7 1138.0,137.2 1138.2,137.2 1138.5,146.6 1138.7,105.6 1139.0,152.2 1139.2,157.2 1139.5,157.4 1139.7,156.6 1140.0,143.6 1140.2,192.1 1140.5,149.2 1140.7,110.2 1141.0,145.0 1141.2,151.6 1141.5,142.3 1141.7,146.6 1142.0,145.5 1142.3,145.8 1142.5,143.6 1142.8,143.1 1143.0,144.6 1143.3,151.2 1143.5,199.7 1143.8,157.3 1144.0,154.9 1144.3,179.3 1144.5,153.9 1144.8,158.7 1145.0,175.3 1145.3,141.1 1145.5,162.1 1145.8,160.5 1146.0,157.8 1146.3,156.0 1146.5,159.4 1146.8,194.2 1147.0,157.8 1147.3,159.4 1147.5,159.8 1147.8,152.5 1148.1,138.7 1148.3,150.3 1148.6,151.0 1148.8,153.4 1149.1,253.2 1149.3,169.5 1149.6,154.0 1149.8,146.8 1150.1,149.6 1150.3,205.4 1150.6,161.3 1150.8,158.3 1151.1,108.8 1151.3,154.1 1151.6,161.6 1151.8,259.4 1152.1,170.6 1152.3,169.5 1152.6,206.7 1152.8,162.8 1153.1,168.1 1153.4,195.1 1153.6,173.0 1153.9,161.4 1154.1,164.9 1154.4,183.1 1154.6,168.7 1154.9,171.0 1155.1,243.2 1155.4,169.6 1155.6,178.2 1155.9,153.5 1156.1,165.6 1156.4,232.3 1156.6,169.6 1156.9,243.8 1157.1,159.1 1157.4,172.8 1157.6,150.2 1157.9,136.0 1158.1,150.8 1158.4,175.5 1158.7,142.6 1158.9,160.2 1159.2,156.9 1159.4,159.9 1159.7,162.4 1159.9,162.6 1160.2,155.9 1160.4,162.1 1160.7,166.6 1160.9,217.9 1161.2,217.9 1161.4,181.1 1161.7,181.2 1161.9,186.6 1162.2,190.7 1162.4,178.2 1162.7,172.2 1162.9,175.0 1163.2,171.3 1163.4,258.0 1163.7,230.6 1163.9,164.5 1164.2,185.7 1164.5,166.1 1164.7,167.3 1165.0,169.2 1165.2,170.0 1165.5,261.1 1165.7,160.5 1166.0,156.7 1166.2,151.8 1166.5,149.4 1166.7,145.0 1167.0,121.6 1167.2,127.8 1167.5,113.7 1167.7,106.0 1168.0,117.6 1168.2,104.6 1168.5,141.3 1168.7,107.2 1169.0,131.0 1169.2,128.2 1169.5,100.8 1169.8,209.5 1170.0,134.4 1170.3,162.0 1170.5,166.9 1170.8,137.9 1171.0,123.0 1171.3,155.9 1171.5,157.5 1171.8,144.3 1172.0,169.5 1172.3,167.8 1172.5,154.4 1172.8,155.1 1173.0,169.7 1173.3,164.3 1173.5,157.1 1173.8,148.8 1174.0,145.4 1174.3,193.7 1174.5,151.2 1174.8,163.9 1175.1,212.4 1175.3,151.5 1175.6,174.1 1175.8,262.5 1176.1,169.5 1176.3,167.5 1176.6,168.6 1176.8,159.5 1177.1,140.9 1177.3,154.5 1177.6,149.7 1177.8,166.7 1178.1,173.6 1178.3,170.3 1178.6,178.3 1178.8,172.4 1179.1,160.9 1179.3,180.3 1179.6,190.8 1179.8,176.7 1180.1,178.2 1180.3,221.8 1180.6,174.1 1180.9,167.1 1181.1,167.8 1181.4,168.7 1181.6,169.3 1181.9,243.6 1182.1,188.8 1182.4,158.1 1182.6,200.3 1182.9,152.2 1183.1,161.5 1183.4,164.4 1183.6,194.7 1183.9,192.5 1184.1,178.1 1184.4,164.8 1184.6,154.5 1184.9,176.5 1185.1,164.2 1185.4,169.3 1185.6,175.0 1185.9,168.7 1186.2,207.2 1186.4,170.5 1186.7,174.2 1186.9,175.9 1187.2,169.0 1187.4,229.9 1187.7,261.4 1187.9,210.0 1188.2,173.6 1188.4,167.9 1188.7,162.0 1188.9,139.7 1189.2,156.9 1189.4,155.2 1189.7,150.5 1189.9,150.2 1190.2,150.1 1190.4,154.7 1190.7,141.5 1190.9,176.2 1191.2,151.1 1191.4,141.2 1191.7,143.0 1192.0,145.2 1192.2,125.0 1192.5,158.3 1192.7,118.1 1193.0,130.3 1193.2,140.6 1193.5,156.4 1193.7,147.0 1194.0,148.6 1194.2,153.2 1194.5,160.0 1194.7,144.1 1195.0,98.5 1195.2,118.0 1195.5,162.0 1195.7,122.2 1196.0,124.9 1196.2,127.0 1196.5,134.4 1196.7,102.0 1197.0,104.3 1197.3,132.9 1197.5,189.2 1197.8,128.7 1198.0,231.4 1198.3,147.5 1198.5,117.5 1198.8,130.9 1199.0,158.6 1199.3,144.1 1199.5,159.2 1199.8,142.7 1200.0,134.1 1200.3,137.7 1200.5,132.1 1200.8,124.1 1201.0,122.0 1201.3,190.6 1201.5,149.0 1201.8,138.4 1202.0,155.4 1202.3,160.2 1202.6,223.9 1202.8,199.5 1203.1,166.8 1203.3,182.3 1203.6,163.8 1203.8,255.8 1204.1,168.1 1204.3,177.0 1204.6,177.8 1204.8,172.9 1205.1,172.6 1205.3,183.6 1205.6,165.6 1205.8,178.0 1206.1,251.0 1206.3,177.6 1206.6,180.9 1206.8,184.6 1207.1,238.1 1207.3,174.1 1207.6,173.8 1207.8,180.3 1208.1,154.7 1208.4,176.1 1208.6,170.6 1208.9,178.8 1209.1,176.7 1209.4,236.2 1209.6,183.4 1209.9,174.7 1210.1,173.7 1210.4,230.6 1210.6,183.7 1210.9,184.8 1211.1,185.6 1211.4,187.0 1211.6,172.1 1211.9,180.9 1212.1,180.9 1212.4,181.6 1212.6,181.7 1212.9,185.6 1213.1,171.1 1213.4,182.4 1213.7,171.9 1213.9,154.8 1214.2,165.3 1214.4,152.3 1214.7,239.4 1214.9,151.5 1215.2,150.6 1215.4,148.1 1215.7,146.2 1215.9,146.9 1216.2,145.1 1216.4,143.2 1216.7,148.2 1216.9,107.8 1217.2,142.5 1217.4,143.2 1217.7,160.3 1217.9,129.4 1218.2,106.9 1218.4,130.0 1218.7,123.8 1219.0,128.0 1219.2,124.3 1219.5,129.0 1219.7,117.9 1220.0,122.7 1220.2,116.9 1220.5,109.2 1220.7,126.3 1221.0,159.0 1221.2,122.0 1221.5,128.4 1221.7,132.7 1222.0,133.9 1222.2,106.6 1222.5,128.9 1222.7,151.6 1223.0,129.8 1223.2,130.5 1223.5,141.4 1223.7,142.5 1224.0,134.0 1224.2,120.9 1224.5,133.2 1224.8,131.8 1225.0,131.2 1225.3,155.8 1225.5,116.0 1225.8,136.9 1226.0,137.4 1226.3,143.2 1226.5,145.0 1226.8,148.7 1227.0,224.0 1227.3,189.6 1227.5,117.6 1227.8,154.9 1228.0,155.2 1228.3,163.1 1228.5,172.2 1228.8,235.3 1229.0,171.4 1229.3,169.6 1229.5,175.9 1229.8,175.8 1230.1,215.7 1230.3,246.5 1230.6,186.9 1230.8,196.6 1231.1,187.6 1231.3,180.1 1231.6,170.4 1231.8,174.3 1232.1,174.4 1232.3,168.8 1232.6,177.1 1232.8,141.0 1233.1,146.4 1233.3,173.5 1233.6,163.8 1233.8,151.3 1234.1,171.2 1234.3,254.7 1234.6,226.0 1234.8,158.6 1235.1,166.5 1235.3,164.1 1235.6,186.7 1235.9,254.2 1236.1,167.3 1236.4,171.9 1236.6,155.3 1236.9,163.3 1237.1,179.7 1237.4,178.0 1237.6,149.9 1237.9,160.7 1238.1,157.1 1238.4,143.6 1238.6,164.0 1238.9,181.0 1239.1,159.9 1239.4,138.2 1239.6,151.2 1239.9,171.1 1240.1,159.9 1240.4,161.7 1240.6,160.6 1240.9,145.7 1241.2,156.8 1241.4,153.5 1241.7,143.3 1241.9,138.9 1242.2,140.3 1242.4,133.8 1242.7,135.1 1242.9,131.2 1243.2,147.2 1243.4,142.6 1243.7,137.2 1243.9,162.9 1244.2,123.3 1244.4,128.4 1244.7,136.0 1244.9,127.4 1245.2,130.7 1245.4,155.9 1245.7,144.8 1245.9,128.8 1246.2,125.7 1246.5,119.5 1246.7,133.1 1247.0,137.7 1247.2,168.4 1247.5,136.2 1247.7,139.1 1248.0,145.3 1248.2,137.3 1248.5,103.1 1248.7,112.1 1249.0,213.2 1249.2,109.5 1249.5,125.9 1249.7,145.4 1250.0,135.0 1250.2,142.4 1250.5,98.5 1250.7,142.2 1251.0,132.7 1251.2,144.0 1251.5,139.6 1251.7,140.4 1252.0,128.0 1252.3,124.5 1252.5,130.9 1252.8,119.9 1253.0,119.8 1253.3,133.4 1253.5,136.8 1253.8,145.2 1254.0,144.7 1254.3,98.5 1254.5,154.8 1254.8,150.6 1255.0,138.0 1255.3,144.0 1255.5,141.2 1255.8,136.2 1256.0,169.0 1256.3,137.5 1256.5,218.7 1256.8,180.4 1257.0,136.3 1257.3,136.2 1257.6,151.3 1257.8,158.7 1258.1,118.0 1258.3,170.5 1258.6,170.6 1258.8,202.3 1259.1,156.7 1259.3,151.0 1259.6,149.6 1259.8,146.1 1260.1,145.9 1260.3,162.1 1260.6,151.5 1260.8,155.9 1261.1,258.9 1261.3,159.1 1261.6,165.3 1261.8,156.2 1262.1,157.9 1262.3,177.3 1262.6,145.9 1262.9,154.2 1263.1,157.3 1263.4,159.1 1263.6,155.1 1263.9,123.3 1264.1,158.3 1264.4,250.7 1264.6,162.7 1264.9,163.7 1265.1,167.0 1265.4,170.5 1265.6,173.3 1265.9,174.1 1266.1,176.3 1266.4,174.4 1266.6,174.9 1266.9,178.3 1267.1,164.1 1267.4,177.8 1267.6,165.9 1267.9,176.2 1268.1,159.5 1268.4,150.0 1268.7,158.5 1268.9,150.7 1269.2,149.9 1269.4,160.9 1269.7,152.6 1269.9,239.1 1270.2,143.7 1270.4,146.2 1270.7,257.4 1270.9,158.5 1271.2,156.1 1271.4,147.1 1271.7,142.9 1271.9,136.8 1272.2,139.6 1272.4,139.1 1272.7,142.5 1272.9,178.5 1273.2,172.4 1273.4,141.1 1273.7,107.0 1274.0,127.9 1274.2,148.4 1274.5,120.6 1274.7,225.0 1275.0,164.6 1275.2,112.7 1275.5,117.2 1275.7,151.4 1276.0,118.6 1276.2,114.5 1276.5,106.3 1276.7,119.9 1277.0,110.4 1277.2,103.9 1277.5,110.7 1277.7,213.5 1278.0,165.6 1278.2,141.6 1278.5,140.2 1278.7,143.8 1279.0,126.8 1279.2,132.2 1279.5,131.1 1279.8,122.3 1280.0,113.2 1280.3,122.1 1280.5,106.9 1280.8,118.4 1281.0,131.1 1281.3,133.4 1281.5,129.9 1281.8,141.7 1282.0,201.7 1282.3,135.0 1282.5,138.9 1282.8,138.0 1283.0,168.2 1283.3,135.0 1283.5,51.7 1283.8,125.8 1284.0,126.4 1284.3,118.6 1284.5,114.5 1284.8,190.7 1285.1,130.8 1285.3,131.1 1285.6,125.1 1285.8,106.2 1286.1,109.1 1286.3,106.4 1286.6,115.7 1286.8,119.4 1287.1,115.7 1287.3,96.4 1287.6,137.3 1287.8,125.1 1288.1,132.3 1288.3,117.2 1288.6,134.8 1288.8,138.6 1289.1,140.9 1289.3,168.5 1289.6,141.9 1289.8,111.0 1290.1,144.5 1290.4,144.2 1290.6,139.3 1290.9,138.8 1291.1,131.3 1291.4,178.7 1291.6,124.0 1291.9,138.8 1292.1,120.5 1292.4,115.2 1292.6,112.9 1292.9,119.5 1293.1,149.9 1293.4,139.3 1293.6,109.3 1293.9,113.7 1294.1,96.4 1294.4,111.5 1294.6,108.7 1294.9,132.2 1295.1,112.8 1295.4,123.1 1295.6,122.6 1295.9,124.9 1296.2,128.7 1296.4,119.2 1296.7,206.9 1296.9,125.6 1297.2,157.4 1297.4,120.3 1297.7,142.6 1297.9,121.0 1298.2,123.4 1298.4,124.2 1298.7,123.3 1298.9,129.5 1299.2,136.9 1299.4,147.3 1299.7,180.9 1299.9,124.8 1300.2,140.9 1300.4,122.2 1300.7,115.6 1300.9,107.0 1301.2,121.0 1301.5,124.8 1301.7,138.5 1302.0,157.9 1302.2,192.0 1302.5,104.8 1302.7,120.2 1303.0,133.1 1303.2,124.1 1303.5,113.5 1303.7,131.1 1304.0,127.7 1304.2,155.0 1304.5,129.8 1304.7,193.6 1305.0,135.8 1305.2,100.7 1305.5,136.6 1305.7,161.4 1306.0,124.3 1306.2,123.9 1306.5,150.6 1306.8,132.4 1307.0,128.1 1307.3,110.9 1307.5,117.7 1307.8,154.2 1308.0,129.8 1308.3,121.6 1308.5,164.7 1308.8,126.5 1309.0,140.1 1309.3,130.3 1309.5,146.5 1309.8,140.9 1310.0,144.2 1310.3,104.9 1310.5,248.6 1310.8,130.6 1311.0,142.8 1311.3,144.4 1311.5,133.9 1311.8,141.7 1312.0,164.3 1312.3,140.1 1312.6,138.9 1312.8,205.1 1313.1,139.4 1313.3,189.0 1313.6,149.9 1313.8,146.6 1314.1,165.1 1314.3,148.8 1314.6,149.6 1314.8,144.2 1315.1,152.9 1315.3,157.2 1315.6,157.5 1315.8,159.1 1316.1,146.2 1316.3,156.6 1316.6,159.4 1316.8,150.9 1317.1,154.1 1317.3,148.2 1317.6,151.4 1317.9,157.5 1318.1,153.6 1318.4,156.3 1318.6,155.9 1318.9,154.4 1319.1,154.2 1319.4,178.3 1319.6,169.3 1319.9,177.2 1320.1,194.7 1320.4,174.4 1320.6,199.8 1320.9,150.3 1321.1,154.8 1321.4,169.9 1321.6,156.1 1321.9,161.7 1322.1,151.3 1322.4,140.6 1322.6,135.0 1322.9,146.2 1323.2,150.7 1323.4,155.0 1323.7,165.9 1323.9,155.4 1324.2,208.2 1324.4,149.9 1324.7,203.2 1324.9,137.5 1325.2,156.2 1325.4,165.0 1325.7,170.5 1325.9,230.6 1326.2,161.7 1326.4,161.1 1326.7,138.7 1326.9,152.6 1327.2,162.2 1327.4,165.9 1327.7,169.4 1327.9,178.9 1328.2,183.5 1328.4,190.5 1328.7,192.0 1329.0,146.1 1329.2,194.9 1329.5,230.8 1329.7,176.8 1330.0,177.5 1330.2,169.2 1330.5,167.7 1330.7,162.9 1331.0,157.2 1331.2,159.0 1331.5,160.7 1331.7,147.1 1332.0,166.1 1332.2,196.3 1332.5,154.1 1332.7,290.0 1333.0,149.9 1333.2,143.1 1333.5,137.1 1333.7,138.9 1334.0,139.3 1334.3,151.7 1334.5,186.3 1334.8,155.6 1335.0,136.9 1335.3,146.2 1335.5,114.5 1335.8,131.6 1336.0,137.5 1336.3,128.5 1336.5,131.9 1336.8,133.5 1337.0,140.4 1337.3,136.8 1337.5,132.6 1337.8,125.4 1338.0,123.7 1338.3,138.3 1338.5,128.2 1338.8,129.7 1339.0,102.8 1339.3,118.9 1339.5,114.0 1339.8,111.1 1340.1,108.4 1340.3,129.0 1340.6,203.0 1340.8,110.1 1341.1,123.1 1341.3,140.0 1341.6,122.4 1341.8,126.6 1342.1,120.6 1342.3,124.3 1342.6,108.9 1342.8,127.4 1343.1,194.8 1343.3,118.2 1343.6,122.2 1343.8,127.1 1344.1,125.6 1344.3,136.0 1344.6,130.3 1344.8,153.7 1345.1,164.7 1345.4,133.4 1345.6,157.9 1345.9,144.9 1346.1,200.8 1346.4,139.3 1346.6,140.5 1346.9,138.0 1347.1,135.3 1347.4,181.1 1347.6,153.0 1347.9,164.8 1348.1,175.2 1348.4,162.9 1348.6,161.5 1348.9,168.3 1349.1,163.9 1349.4,171.5 1349.6,166.0 1349.9,174.1 1350.1,120.3 1350.4,157.6 1350.7,181.4 1350.9,207.5 1351.2,200.5 1351.4,167.0 1351.7,124.6 1351.9,166.9 1352.2,161.8 1352.4,167.3 1352.7,154.4 1352.9,158.7 1353.2,155.3 1353.4,107.0 1353.7,150.5 1353.9,138.0 1354.2,181.0 1354.4,124.6 1354.7,142.5 1354.9,154.4 1355.2,134.3 1355.4,178.9 1355.7,137.1 1355.9,143.0 1356.2,121.7 1356.5,142.8 1356.7,140.3 1357.0,142.0 1357.2,147.2 1357.5,152.6 1357.7,154.6 1358.0,190.1 1358.2,147.6 1358.5,156.1 1358.7,141.7 1359.0,154.1 1359.2,151.8 1359.5,151.7 1359.7,154.3 1360.0,147.0 1360.2,144.2 1360.5,139.0 1360.7,140.4 1361.0,137.8 1361.2,142.4 1361.5,139.7 1361.8,130.8 1362.0,139.7 1362.3,127.7 1362.5,134.7 1362.8,58.1 1363.0,137.8 1363.3,149.6 1363.5,169.0 1363.8,141.0 1364.0,116.1 1364.3,135.2 1364.5,140.3 1364.8,183.1 1365.0,170.7 1365.3,136.8 1365.5,147.4 1365.8,147.0 1366.0,147.2 1366.3,150.9 1366.5,161.7 1366.8,175.7 1367.1,161.1 1367.3,156.3 1367.6,153.0 1367.8,167.0 1368.1,206.8 1368.3,164.8 1368.6,116.1 1368.8,143.9 1369.1,156.1 1369.3,161.9 1369.6,144.0 1369.8,161.7 1370.1,152.7 1370.3,146.2 1370.6,147.0 1370.8,105.3 1371.1,149.0 1371.3,148.5 1371.6,150.5 1371.8,250.2 1372.1,152.6 1372.3,206.2 1372.6,187.0 1372.9,152.3 1373.1,107.8 1373.4,113.4 1373.6,133.4 1373.9,137.9 1374.1,181.8 1374.4,105.3 1374.6,176.6 1374.9,105.6 1375.1,200.7 1375.4,154.5 1375.6,159.4 1375.9,252.3 1376.1,144.1 1376.4,130.8 1376.6,123.5 1376.9,121.8 1377.1,121.9 1377.4,125.8 1377.6,152.1 1377.9,134.8 1378.2,122.9 1378.4,130.9 1378.7,125.8 1378.9,122.8 1379.2,117.4 1379.4,192.4 1379.7,114.6 1379.9,124.9 1380.2,129.0 1380.4,129.8 1380.7,125.9 1380.9,204.8 1381.2,151.4 1381.4,164.5 1381.7,137.6 1381.9,129.4 1382.2,108.4 1382.4,108.5 1382.7,282.5 1382.9,124.9 1383.2,114.6 1383.4,120.3 1383.7,107.4 1384.0,109.6 1384.2,111.8 1384.5,110.0 1384.7,107.5 1385.0,107.1 1385.2,106.0 1385.5,106.6 1385.7,130.9 1386.0,107.6 1386.2,107.0 1386.5,111.3 1386.7,115.2 1387.0,86.8 1387.2,121.2 1387.5,120.1 1387.7,123.0 1388.0,153.3 1388.2,118.0 1388.5,110.9 1388.7,212.9 1389.0,114.2 1389.3,120.3 1389.5,140.0 1389.8,98.5 1390.0,107.6 1390.3,112.9 1390.5,96.6 1390.8,138.3 1391.0,142.9 1391.3,129.3 1391.5,229.4 1391.8,117.1 1392.0,126.0 1392.3,129.0 1392.5,205.1 1392.8,125.0 1393.0,87.9 1393.3,191.8 1393.5,125.5 1393.8,123.8 1394.0,117.4 1394.3,110.9 1394.6,110.5 1394.8,109.1 1395.1,110.5 1395.3,113.5 1395.6,119.1 1395.8,112.8 1396.1,110.8 1396.3,199.6 1396.6,120.0 1396.8,114.7 1397.1,118.8 1397.3,122.8 1397.6,109.3 1397.8,115.9 1398.1,110.1 1398.3,119.3 1398.6,118.6 1398.8,83.6 1399.1,126.6 1399.3,221.5 1399.6,119.8 1399.8,122.6 1400.1,123.1 1400.4,139.3 1400.6,124.7 1400.9,122.6 1401.1,114.8 1401.4,113.1 1401.6,111.9 1401.9,119.3 1402.1,161.8 1402.4,126.1 1402.6,124.3 1402.9,135.4 1403.1,221.8 1403.4,123.3 1403.6,96.4 1403.9,128.6 1404.1,125.6 1404.4,125.1 1404.6,116.4 1404.9,118.1 1405.1,123.0 1405.4,114.9 1405.7,120.5 1405.9,106.6 1406.2,220.8 1406.4,107.9 1406.7,103.8 1406.9,150.3 1407.2,107.6 1407.4,110.6 1407.7,141.0 1407.9,85.8 1408.2,120.6 1408.4,116.1 1408.7,109.9 1408.9,108.3 1409.2,104.3 1409.4,105.8 1409.7,104.4 1409.9,104.5 1410.2,103.2 1410.4,98.8 1410.7,102.4 1411.0,106.0 1411.2,128.7 1411.5,106.3 1411.7,104.7 1412.0,105.9 1412.2,153.8 1412.5,118.6 1412.7,119.8 1413.0,116.5 1413.2,104.5 1413.5,121.2 1413.7,135.3 1414.0,190.1 1414.2,134.4 1414.5,143.4 1414.7,146.0 1415.0,142.9 1415.2,138.6 1415.5,133.2 1415.7,137.7 1416.0,130.2 1416.2,134.4 1416.5,130.5 1416.8,131.5 1417.0,128.8 1417.3,238.8 1417.5,131.8 1417.8,125.5 1418.0,138.3 1418.3,241.1 1418.5,164.2 1418.8,117.2 1419.0,43.2 1419.3,115.9 1419.5,108.6 1419.8,212.0 1420.0,107.0 1420.3,157.5 1420.5,103.9 1420.8,101.3 1421.0,107.5 1421.3,107.2 1421.5,108.7 1421.8,177.0 1422.1,122.5 1422.3,125.2 1422.6,127.0 1422.8,166.2 1423.1,224.7 1423.3,133.7 1423.6,126.9 1423.8,128.0 1424.1,130.7 1424.3,131.7 1424.6,121.4 1424.8,122.9 1425.1,122.0 1425.3,154.7 1425.6,118.9 1425.8,96.4 1426.1,114.6 1426.3,108.5 1426.6,105.5 1426.8,120.8 1427.1,121.1 1427.4,107.7 1427.6,147.1 1427.9,110.8 1428.1,108.7 1428.4,115.6 1428.6,105.4 1428.9,114.5 1429.1,221.6 1429.4,118.9 1429.6,112.8 1429.9,108.2 1430.1,115.2 1430.4,119.0 1430.6,107.3 1430.9,108.7 1431.1,109.1 1431.4,118.8 1431.6,113.2 1431.9,130.1 1432.1,106.8 1432.4,108.1 1432.6,109.2 1432.9,110.1 1433.2,108.2 1433.4,116.6 1433.7,119.4 1433.9,126.1 1434.2,131.9 1434.4,121.0 1434.7,122.3 1434.9,134.5 1435.2,105.1 1435.4,138.6 1435.7,133.1 1435.9,127.2 1436.2,122.9 1436.4,120.7 1436.7,128.1 1436.9,123.5 1437.2,136.3 1437.4,117.1 1437.7,133.2 1437.9,133.3 1438.2,134.0 1438.5,133.9 1438.7,116.8 1439.0,124.7 1439.2,179.3 1439.5,108.4 1439.7,107.2 1440.0,107.0 1440.2,127.2 1440.5,83.6 1440.7,106.1 1441.0,111.6 1441.2,109.7 1441.5,108.4 1441.7,116.0 1442.0,115.6 1442.2,205.7 1442.5,109.4 1442.7,109.7 1443.0,114.6 1443.2,126.5 1443.5,126.7 1443.7,129.5 1444.0,121.1 1444.3,112.2 1444.5,122.2 1444.8,135.3 1445.0,215.2 1445.3,192.6 1445.5,105.9 1445.8,110.7 1446.0,122.7 1446.3,128.1 1446.5,133.1 1446.8,124.5 1447.0,125.3 1447.3,120.6 1447.5,125.0 1447.8,134.4 1448.0,168.1 1448.3,135.6 1448.5,175.2 1448.8,129.7 1449.0,143.5 1449.3,134.8 1449.6,138.5 1449.8,136.7 1450.1,197.9 1450.3,139.2 1450.6,136.5 1450.8,141.5 1451.1,136.1 1451.3,135.5 1451.6,135.2 1451.8,137.6 1452.1,121.3 1452.3,126.6 1452.6,131.8 1452.8,138.3 1453.1,188.9 1453.3,143.2 1453.6,128.1 1453.8,141.8 1454.1,124.9 1454.3,158.1 1454.6,141.7 1454.9,183.7 1455.1,128.8 1455.4,130.5 1455.6,115.3 1455.9,125.5 1456.1,124.3 1456.4,133.7 1456.6,124.3 1456.9,229.3 1457.1,127.9 1457.4,132.9 1457.6,200.7 1457.9,121.1 1458.1,132.5 1458.4,185.7 1458.6,132.2 1458.9,148.0 1459.1,134.3 1459.4,170.4 1459.6,141.9 1459.9,118.3 1460.1,140.4 1460.4,102.1 1460.7,121.9 1460.9,123.7 1461.2,121.9 1461.4,109.4 1461.7,104.6 1461.9,134.1 1462.2,107.0 1462.4,176.6 1462.7,137.1 1462.9,136.3 1463.2,139.8 1463.4,136.0 1463.7,145.7 1463.9,164.7 1464.2,148.3 1464.4,142.1 1464.7,144.5 1464.9,144.3 1465.2,137.9 1465.4,146.9 1465.7,134.1 1466.0,142.8 1466.2,130.3 1466.5,181.9 1466.7,142.2 1467.0,179.9 1467.2,147.2 1467.5,158.5 1467.7,150.0 1468.0,105.7 1468.2,134.0 1468.5,151.7 1468.7,150.9 1469.0,148.1 1469.2,163.7 1469.5,168.3 1469.7,167.3 1470.0,161.7 1470.2,163.3 1470.5,140.1 1470.7,161.5 1471.0,258.5 1471.3,165.4 1471.5,156.8 1471.8,155.4 1472.0,158.4 1472.3,154.0 1472.5,141.6 1472.8,160.3 1473.0,150.1 1473.3,150.0 1473.5,151.0 1473.8,142.5 1474.0,139.2 1474.3,138.9 1474.5,139.1 1474.8,138.2 1475.0,109.2 1475.3,130.0 1475.5,134.9 1475.8,125.8 1476.0,128.9 1476.3,141.8 1476.5,132.0 1476.8,110.5 1477.1,184.4 1477.3,215.5 1477.6,132.8 1477.8,176.5 1478.1,118.8 1478.3,159.8 1478.6,127.4 1478.8,124.4 1479.1,221.6 1479.3,109.6 1479.6,106.5 1479.8,109.3 1480.1,98.6 1480.3,108.3 1480.6,105.6 1480.8,103.4 1481.1,104.6 1481.3,104.2 1481.6,105.4 1481.8,101.4 1482.1,107.4 1482.4,106.0 1482.6,102.8 1482.9,108.4 1483.1,81.5 1483.4,107.1 1483.6,105.5 1483.9,105.1 1484.1,105.2 1484.4,126.2 1484.6,104.6 1484.9,107.3 1485.1,101.8 1485.4,102.0 1485.6,107.3 1485.9,101.1 1486.1,101.2 1486.4,143.6 1486.6,98.9 1486.9,100.9 1487.1,103.5 1487.4,103.0 1487.6,104.9 1487.9,107.3 1488.2,109.6 1488.4,79.4 1488.7,107.3 1488.9,105.8 1489.2,106.1 1489.4,156.9 1489.7,105.4 1489.9,104.9 1490.2,96.1 1490.4,109.5 1490.7,108.0 1490.9,107.9 1491.2,107.7 1491.4,169.1 1491.7,107.8 1491.9,118.5 1492.2,116.8 1492.4,109.1 1492.7,109.4 1492.9,108.6 1493.2,108.9 1493.5,123.9 1493.7,115.0 1494.0,105.9 1494.2,103.6 1494.5,77.3 1494.7,105.7 1495.0,150.5 1495.2,106.6 1495.5,216.4 1495.7,112.6 1496.0,123.4 1496.2,119.0 1496.5,114.1 1496.7,123.9 1497.0,127.0 1497.2,116.3 1497.5,119.8 1497.7,119.7 1498.0,124.5 1498.2,104.4 1498.5,108.6 1498.8,130.5 1499.0,134.9 1499.3,141.0 1499.5,164.7 1499.8,148.7 1500.0,135.3 1500.3,144.5 1500.5,199.1 1500.8,142.1 1501.0,127.7 1501.3,231.1 1501.5,130.9 1501.8,141.4 1502.0,148.2 1502.3,138.1 1502.5,151.0 1502.8,166.8 1503.0,138.8 1503.3,214.1 1503.5,130.9 1503.8,131.1 1504.0,247.8 1504.3,149.9 1504.6,172.6 1504.8,152.2 1505.1,131.1 1505.3,130.3 1505.6,142.2 1505.8,127.6 1506.1,121.0 1506.3,144.6 1506.6,204.0 1506.8,116.6 1507.1,134.5 1507.3,139.6 1507.6,128.3 1507.8,217.9 1508.1,131.2 1508.3,100.6 1508.6,113.3 1508.8,141.3 1509.1,142.1 1509.3,146.4 1509.6,222.4 1509.9,167.1 1510.1,146.0 1510.4,149.4 1510.6,135.9 1510.9,184.6 1511.1,137.4 1511.4,145.4 1511.6,155.6 1511.9,158.3 1512.1,159.0 1512.4,174.7 1512.6,159.6 1512.9,162.3 1513.1,125.8 1513.4,153.8 1513.6,167.8 1513.9,172.8 1514.1,192.6 1514.4,166.0 1514.6,154.7 1514.9,231.4 1515.2,144.8 1515.4,138.9 1515.7,145.2 1515.9,144.7 1516.2,143.6 1516.4,149.4 1516.7,144.5 1516.9,145.6 1517.2,171.1 1517.4,205.9 1517.7,137.9 1517.9,102.8 1518.2,147.7 1518.4,142.4 1518.7,136.7 1518.9,207.7 1519.2,136.4 1519.4,147.9 1519.7,148.9 1519.9,180.1 1520.2,144.2 1520.4,148.8 1520.7,123.5 1521.0,140.4 1521.2,155.2 1521.5,132.9 1521.7,131.5 1522.0,131.9 1522.2,115.1 1522.5,158.0 1522.7,140.0 1523.0,148.3 1523.2,140.0 1523.5,135.8 1523.7,137.1 1524.0,146.8 1524.2,166.2 1524.5,153.3 1524.7,129.5 1525.0,152.3 1525.2,148.0 1525.5,138.1 1525.7,138.0 1526.0,127.8 1526.3,135.0 1526.5,98.5 1526.8,107.5 1527.0,122.2 1527.3,124.4 1527.5,121.7 1527.8,116.1 1528.0,101.9 1528.3,213.6 1528.5,119.2 1528.8,127.0 1529.0,131.2 1529.3,135.7 1529.5,116.6 1529.8,121.9 1530.0,155.1 1530.3,136.0 1530.5,151.8 1530.8,236.0 1531.0,140.2 1531.3,202.8 1531.5,139.9 1531.8,198.6 1532.1,183.4 1532.3,150.4 1532.6,156.6 1532.8,207.6 1533.1,146.7 1533.3,157.7 1533.6,161.5 1533.8,155.3 1534.1,198.5 1534.3,174.9 1534.6,164.5 1534.8,164.1 1535.1,181.5 1535.3,169.5 1535.6,200.0 1535.8,188.1 1536.1,185.1 1536.3,175.4 1536.6,173.8 1536.8,213.9 1537.1,171.1 1537.4,176.4 1537.6,249.5 1537.9,157.9 1538.1,177.3 1538.4,170.1 1538.6,163.3 1538.9,172.2 1539.1,254.6 1539.4,169.5 1539.6,168.3 1539.9,167.8 1540.1,156.2 1540.4,177.4 1540.6,174.9 1540.9,259.5 1541.1,174.1 1541.4,165.8 1541.6,165.1 1541.9,117.7 1542.1,163.8 1542.4,172.6 1542.7,249.6 1542.9,195.3 1543.2,175.5 1543.4,167.3 1543.7,161.9 1543.9,258.4 1544.2,193.2 1544.4,159.4 1544.7,167.5 1544.9,232.5 1545.2,159.0 1545.4,220.2 1545.7,167.6 1545.9,258.3 1546.2,187.5 1546.4,143.4 1546.7,159.6 1546.9,161.7 1547.2,163.1 1547.4,162.3 1547.7,147.0 1547.9,156.6 1548.2,157.6 1548.5,155.7 1548.7,227.0 1549.0,156.4 1549.2,159.7 1549.5,159.0 1549.7,159.5 1550.0,143.3 1550.2,136.7 1550.5,131.7 1550.7,133.6 1551.0,136.9 1551.2,138.6 1551.5,140.8 1551.7,140.2 1552.0,137.5 1552.2,108.2 1552.5,118.4 1552.7,234.8 1553.0,129.4 1553.2,112.5 1553.5,125.3 1553.8,192.1 1554.0,115.7 1554.3,106.9 1554.5,109.0 1554.8,151.0 1555.0,108.8 1555.3,83.6 1555.5,108.6 1555.8,128.1 1556.0,170.2 1556.3,110.7 1556.5,111.6 1556.8,115.0 1557.0,127.1 1557.3,119.2 1557.5,126.8 1557.8,113.8 1558.0,99.3 1558.3,127.4 1558.5,99.7 1558.8,118.3 1559.1,143.9 1559.3,117.1 1559.6,115.0 1559.8,118.5 1560.1,127.5 1560.3,125.2 1560.6,129.5 1560.8,125.9 1561.1,131.1 1561.3,135.5 1561.6,110.2 1561.8,117.9 1562.1,143.8 1562.3,136.6 1562.6,126.8 1562.8,129.9 1563.1,142.1 1563.3,126.6 1563.6,133.9 1563.8,137.8 1564.1,143.0 1564.3,146.6 1564.6,135.4 1564.9,126.0 1565.1,154.3 1565.4,251.7 1565.6,114.0 1565.9,132.1 1566.1,133.1 1566.4,192.7 1566.6,127.7 1566.9,136.4 1567.1,130.9 1567.4,135.9 1567.6,136.0 1567.9,136.0 1568.1,154.9 1568.4,228.1 1568.6,142.1 1568.9,141.8 1569.1,127.7 1569.4,107.2 1569.6,138.1 1569.9,141.3 1570.2,145.9 1570.4,144.0 1570.7,143.9 1570.9,152.3 1571.2,157.7 1571.4,174.9 1571.7,166.3 1571.9,197.1 1572.2,166.3 1572.4,157.7 1572.7,157.9 1572.9,159.4 1573.2,167.9 1573.4,211.8 1573.7,169.4 1573.9,167.2 1574.2,162.7 1574.4,163.4 1574.7,169.8 1574.9,184.6 1575.2,191.7 1575.5,145.3 1575.7,177.7 1576.0,178.7 1576.2,174.3 1576.5,169.6 1576.7,178.9 1577.0,212.0 1577.2,190.6 1577.5,178.3 1577.7,171.5 1578.0,171.2 1578.2,258.3 1578.5,199.3 1578.7,179.1 1579.0,192.6 1579.2,168.8 1579.5,201.3 1579.7,157.2 1580.0,166.3 1580.2,171.7 1580.5,168.2 1580.7,173.6 1581.0,171.0 1581.3,188.7 1581.5,171.1 1581.8,173.6 1582.0,170.3 1582.3,155.2 1582.5,160.3 1582.8,262.2 1583.0,176.6 1583.3,180.8 1583.5,235.9 1583.8,190.9 1584.0,254.7 1584.3,190.8 1584.5,137.5 1584.8,184.3 1585.0,182.2 1585.3,189.7 1585.5,186.1 1585.8,191.3 1586.0,222.1 1586.3,198.1 1586.6,192.7 1586.8,204.9 1587.1,200.5 1587.3,266.1 1587.6,184.1 1587.8,188.9 1588.1,196.0 1588.3,182.1 1588.6,180.3 1588.8,195.3 1589.1,194.0 1589.3,193.3 1589.6,189.5 1589.8,216.2 1590.1,193.5 1590.3,185.6 1590.6,188.3 1590.8,265.3 1591.1,180.1 1591.3,173.4 1591.6,121.9 1591.8,173.3 1592.1,264.1 1592.4,183.5 1592.6,213.1 1592.9,193.0 1593.1,183.2 1593.4,180.2 1593.6,259.9 1593.9,264.9 1594.1,187.3 1594.4,186.9 1594.6,188.4 1594.9,183.3 1595.1,168.4 1595.4,176.7 1595.6,190.1 1595.9,181.7 1596.1,162.4 1596.4,168.1 1596.6,179.5 1596.9,149.7 1597.1,240.0 1597.4,167.1 1597.7,171.6 1597.9,165.4 1598.2,169.8 1598.4,161.6 1598.7,232.5 1598.9,190.0 1599.2,216.2 1599.4,154.5 1599.7,144.4 1599.9,148.4 1600.2,144.7 1600.4,147.3 1600.7,140.8 1600.9,140.3 1601.2,144.1 1601.4,151.2 1601.7,158.2"/>
<rect class="sp" x="1021.0" y="19.9" width="606.7" height="517.1"/>
<line class="tk" x1="1014.5" y1="53.8" x2="1021.0" y2="53.8"/>
<text class="t" text-anchor="end" x="1008.3" y="64.9">20</text>
<line class="tk" x1="1014.5" y1="121.9" x2="1021.0" y2="121.9"/>
<text class="t" text-anchor="end" x="1008.3" y="133.0">10</text>
<line class="tk" x1="1014.5" y1="189.9" x2="1021.0" y2="189.9"/>
<text class="t" text-anchor="end" x="1008.3" y="201.0">0</text>
<line class="tk" x1="1014.5" y1="257.9" x2="1021.0" y2="257.9"/>
<text class="t" text-anchor="end" x="1008.3" y="269.0">−10</text>
<line class="tk" x1="1014.5" y1="326.0" x2="1021.0" y2="326.0"/>
<text class="t" text-anchor="end" x="1008.3" y="337.1">−20</text>
<line class="tk" x1="1014.5" y1="394.0" x2="1021.0" y2="394.0"/>
<text class="t" text-anchor="end" x="1008.3" y="405.1">−30</text>
<line class="tk" x1="1014.5" y1="462.0" x2="1021.0" y2="462.0"/>
<text class="t" text-anchor="end" x="1008.3" y="473.1">−40</text>
<line class="tk" x1="1014.5" y1="530.0" x2="1021.0" y2="530.0"/>
<text class="t" text-anchor="end" x="1008.3" y="541.1">−50</text>
<line class="tk" x1="1627.7" y1="513.3" x2="1634.2" y2="513.3"/>
<text class="t" x="1640.4" y="524.4">0</text>
<line class="tk" x1="1627.7" y1="406.9" x2="1634.2" y2="406.9"/>
<text class="t" x="1640.4" y="418.0">5</text>
<line class="tk" x1="1627.7" y1="300.6" x2="1634.2" y2="300.6"/>
<text class="t" x="1640.4" y="311.7">10</text>
<line class="tk" x1="1627.7" y1="194.2" x2="1634.2" y2="194.2"/>
<text class="t" x="1640.4" y="205.3">15</text>
<line class="tk" x1="1627.7" y1="87.9" x2="1634.2" y2="87.9"/>
<text class="t" x="1640.4" y="99.0">20</text>
<line class="tk" x1="1048.9" y1="537.0" x2="1048.9" y2="543.5"/>
<text class="t" text-anchor="middle" x="1048.9" y="572.3">0</text>
<line class="tk" x1="1175.1" y1="537.0" x2="1175.1" y2="543.5"/>
<text class="t" text-anchor="middle" x="1175.1" y="572.3">500</text>
<line class="tk" x1="1301.2" y1="537.0" x2="1301.2" y2="543.5"/>
<text class="t" text-anchor="middle" x="1301.2" y="572.3">1000</text>
<line class="tk" x1="1427.4" y1="537.0" x2="1427.4" y2="543.5"/>
<text class="t" text-anchor="middle" x="1427.4" y="572.3">1500</text>
<line class="tk" x1="1553.5" y1="537.0" x2="1553.5" y2="543.5"/>
<text class="t" text-anchor="middle" x="1553.5" y="572.3">2000</text>
<text class="a" text-anchor="middle" x="1324.5" y="607.2">Iterations</text>
<text class="a" text-anchor="middle" transform="translate(935.6,281.9) rotate(-90)">Energy</text>
<text class="a" text-anchor="middle" transform="translate(1707.0,279.4) rotate(-90)">Parameter-space distance</text>
<rect class="lg" x="1475.5" y="27.6" width="145.8" height="58.7" rx="3.6" ry="3.6"/>
<line class="en" x1="1481.7" y1="43.2" x2="1521.3" y2="43.2"/>
<line class="di" x1="1481.7" y1="70.0" x2="1521.3" y2="70.0"/>
<text class="l" x="1534.0" y="49.6">Energy</text>
<text class="l" x="1534.0" y="76.4">Distance</text>
<text class="c" text-anchor="middle" x="1311.7" y="690.0">(b)</text>
</g>
</svg>
</body></html>
